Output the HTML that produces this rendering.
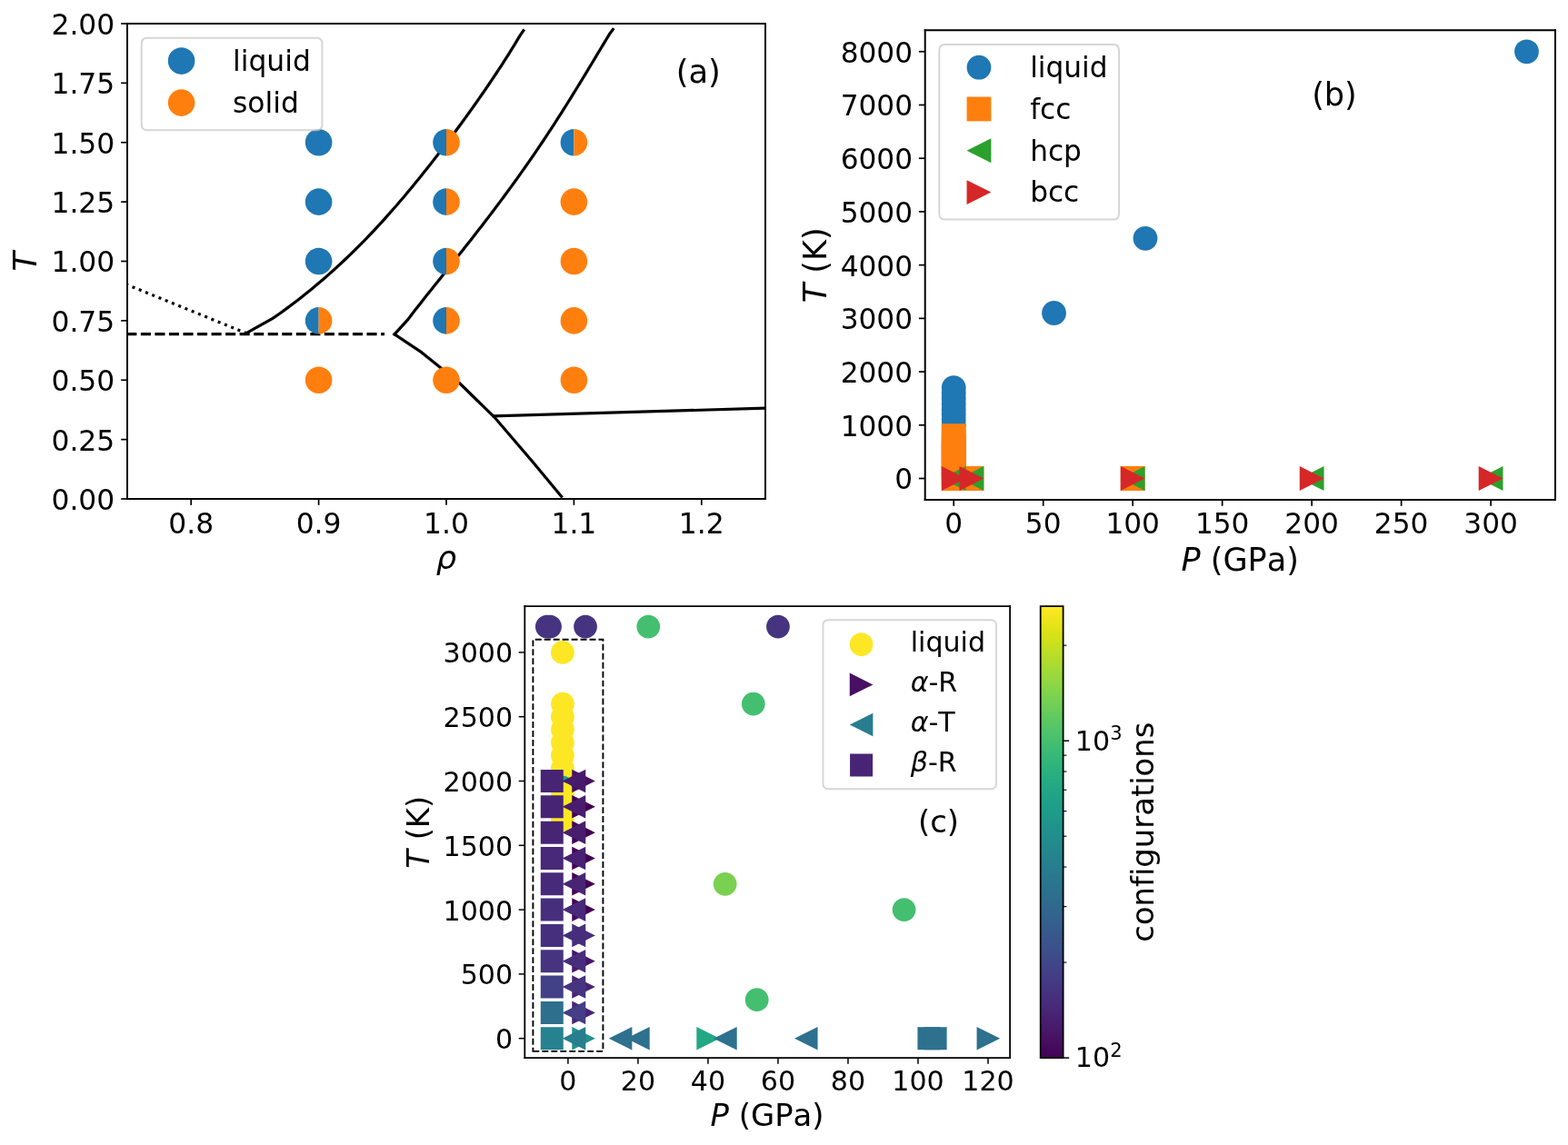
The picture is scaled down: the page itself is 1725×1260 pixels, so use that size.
<!DOCTYPE html>
<html><head><meta charset="utf-8"><title>figure</title>
<style>
html,body{margin:0;padding:0;background:#fff;overflow:hidden;}
#fig{position:relative;width:1725px;height:1260px;overflow:hidden;background:#fff;}
#fig svg{position:absolute;left:0;top:0;}
text{font-variant-ligatures:none;font-feature-settings:"liga" 0;}
</style></head><body><div id="fig">
<svg width="1725" height="1260" viewBox="0 0 880.102041 642.857143" version="1.1">
 <defs>
  <style type="text/css">*{stroke-linejoin: round; stroke-linecap: butt}</style>
 </defs>
 <g id="figure_1">
  <g id="patch_1">
   <path d="M 0 642.857143 L 880.102041 642.857143 L 880.102041 0 L 0 0 L 0 642.857143 z" style="fill: none"/>
  </g>
  <g id="axes_1">
   <g id="patch_2">
    <path d="M 71.428571 280.102041 L 429.591837 280.102041 L 429.591837 13.265306 L 71.428571 13.265306 L 71.428571 280.102041 z" style="fill: none"/>
   </g>
   <g id="matplotlib.axis_1">
    <g id="xtick_1">
     <g id="line2d_1">
      <g>
       <path d="M 0 0 L 0 3.5" transform="translate(107.244898 280.102041)" style="stroke: #000000; stroke-width: 0.867347"/>
      </g>
     </g>
     <g id="text_1">
      <text style="font-size: 16px; font-family: 'DejaVu Sans', sans-serif; text-anchor: middle" x="107.244898" y="299.259541" transform="rotate(-0 107.244898 299.259541)">0.8</text>
     </g>
    </g>
    <g id="xtick_2">
     <g id="line2d_2">
      <g>
       <path d="M 0 0 L 0 3.5" transform="translate(178.877551 280.102041)" style="stroke: #000000; stroke-width: 0.867347"/>
      </g>
     </g>
     <g id="text_2">
      <text style="font-size: 16px; font-family: 'DejaVu Sans', sans-serif; text-anchor: middle" x="178.877551" y="299.259541" transform="rotate(-0 178.877551 299.259541)">0.9</text>
     </g>
    </g>
    <g id="xtick_3">
     <g id="line2d_3">
      <g>
       <path d="M 0 0 L 0 3.5" transform="translate(250.510204 280.102041)" style="stroke: #000000; stroke-width: 0.867347"/>
      </g>
     </g>
     <g id="text_3">
      <text style="font-size: 16px; font-family: 'DejaVu Sans', sans-serif; text-anchor: middle" x="250.510204" y="299.259541" transform="rotate(-0 250.510204 299.259541)">1.0</text>
     </g>
    </g>
    <g id="xtick_4">
     <g id="line2d_4">
      <g>
       <path d="M 0 0 L 0 3.5" transform="translate(322.142857 280.102041)" style="stroke: #000000; stroke-width: 0.867347"/>
      </g>
     </g>
     <g id="text_4">
      <text style="font-size: 16px; font-family: 'DejaVu Sans', sans-serif; text-anchor: middle" x="322.142857" y="299.259541" transform="rotate(-0 322.142857 299.259541)">1.1</text>
     </g>
    </g>
    <g id="xtick_5">
     <g id="line2d_5">
      <g>
       <path d="M 0 0 L 0 3.5" transform="translate(393.77551 280.102041)" style="stroke: #000000; stroke-width: 0.867347"/>
      </g>
     </g>
     <g id="text_5">
      <text style="font-size: 16px; font-family: 'DejaVu Sans', sans-serif; text-anchor: middle" x="393.77551" y="299.259541" transform="rotate(-0 393.77551 299.259541)">1.2</text>
     </g>
    </g>
    <g id="text_6">
     <!-- $\rho$ -->
     <g transform="translate(244.750204 320.227666)">
      <text>
       <tspan x="0" y="-0.921875" style="font-style: oblique; font-size: 18px; font-family: 'DejaVu Sans', sans-serif">ρ</tspan>
      </text>
     </g>
    </g>
   </g>
   <g id="matplotlib.axis_2">
    <g id="ytick_1">
     <g id="line2d_6">
      <g>
       <path d="M 0 0 L -3.5 0" transform="translate(71.428571 280.102041)" style="stroke: #000000; stroke-width: 0.867347"/>
      </g>
     </g>
     <g id="text_7">
      <text style="font-size: 16px; font-family: 'DejaVu Sans', sans-serif; text-anchor: end" x="64.428571" y="286.180791" transform="rotate(-0 64.428571 286.180791)">0.00</text>
     </g>
    </g>
    <g id="ytick_2">
     <g id="line2d_7">
      <g>
       <path d="M 0 0 L -3.5 0" transform="translate(71.428571 246.747449)" style="stroke: #000000; stroke-width: 0.867347"/>
      </g>
     </g>
     <g id="text_8">
      <text style="font-size: 16px; font-family: 'DejaVu Sans', sans-serif; text-anchor: end" x="64.428571" y="252.826199" transform="rotate(-0 64.428571 252.826199)">0.25</text>
     </g>
    </g>
    <g id="ytick_3">
     <g id="line2d_8">
      <g>
       <path d="M 0 0 L -3.5 0" transform="translate(71.428571 213.392857)" style="stroke: #000000; stroke-width: 0.867347"/>
      </g>
     </g>
     <g id="text_9">
      <text style="font-size: 16px; font-family: 'DejaVu Sans', sans-serif; text-anchor: end" x="64.428571" y="219.471607" transform="rotate(-0 64.428571 219.471607)">0.50</text>
     </g>
    </g>
    <g id="ytick_4">
     <g id="line2d_9">
      <g>
       <path d="M 0 0 L -3.5 0" transform="translate(71.428571 180.038265)" style="stroke: #000000; stroke-width: 0.867347"/>
      </g>
     </g>
     <g id="text_10">
      <text style="font-size: 16px; font-family: 'DejaVu Sans', sans-serif; text-anchor: end" x="64.428571" y="186.117015" transform="rotate(-0 64.428571 186.117015)">0.75</text>
     </g>
    </g>
    <g id="ytick_5">
     <g id="line2d_10">
      <g>
       <path d="M 0 0 L -3.5 0" transform="translate(71.428571 146.683673)" style="stroke: #000000; stroke-width: 0.867347"/>
      </g>
     </g>
     <g id="text_11">
      <text style="font-size: 16px; font-family: 'DejaVu Sans', sans-serif; text-anchor: end" x="64.428571" y="152.762423" transform="rotate(-0 64.428571 152.762423)">1.00</text>
     </g>
    </g>
    <g id="ytick_6">
     <g id="line2d_11">
      <g>
       <path d="M 0 0 L -3.5 0" transform="translate(71.428571 113.329082)" style="stroke: #000000; stroke-width: 0.867347"/>
      </g>
     </g>
     <g id="text_12">
      <text style="font-size: 16px; font-family: 'DejaVu Sans', sans-serif; text-anchor: end" x="64.428571" y="119.407832" transform="rotate(-0 64.428571 119.407832)">1.25</text>
     </g>
    </g>
    <g id="ytick_7">
     <g id="line2d_12">
      <g>
       <path d="M 0 0 L -3.5 0" transform="translate(71.428571 79.97449)" style="stroke: #000000; stroke-width: 0.867347"/>
      </g>
     </g>
     <g id="text_13">
      <text style="font-size: 16px; font-family: 'DejaVu Sans', sans-serif; text-anchor: end" x="64.428571" y="86.05324" transform="rotate(-0 64.428571 86.05324)">1.50</text>
     </g>
    </g>
    <g id="ytick_8">
     <g id="line2d_13">
      <g>
       <path d="M 0 0 L -3.5 0" transform="translate(71.428571 46.619898)" style="stroke: #000000; stroke-width: 0.867347"/>
      </g>
     </g>
     <g id="text_14">
      <text style="font-size: 16px; font-family: 'DejaVu Sans', sans-serif; text-anchor: end" x="64.428571" y="52.698648" transform="rotate(-0 64.428571 52.698648)">1.75</text>
     </g>
    </g>
    <g id="ytick_9">
     <g id="line2d_14">
      <g>
       <path d="M 0 0 L -3.5 0" transform="translate(71.428571 13.265306)" style="stroke: #000000; stroke-width: 0.867347"/>
      </g>
     </g>
     <g id="text_15">
      <text style="font-size: 16px; font-family: 'DejaVu Sans', sans-serif; text-anchor: end" x="64.428571" y="19.344056" transform="rotate(-0 64.428571 19.344056)">2.00</text>
     </g>
    </g>
    <g id="text_16">
     <!-- $T$ -->
     <g transform="translate(21.060134 152.263673) rotate(-90)">
      <text>
       <tspan x="0" y="-0.875" style="font-style: oblique; font-size: 18px; font-family: 'DejaVu Sans', sans-serif">T</tspan>
      </text>
     </g>
    </g>
   </g>
   <g id="line2d_15">
    <path d="M 70.561224 159.540816 L 138.367347 187.142857" clip-path="url(#p8e86436fc1)" style="fill: none; stroke-dasharray: 1.55102,2.438776; stroke-dashoffset: 0; stroke: #000000; stroke-width: 1.632653"/>
   </g>
   <g id="line2d_16">
    <path d="M 71.071429 187.55102 L 215.816327 187.55102" clip-path="url(#p8e86436fc1)" style="fill: none; stroke-dasharray: 5.663265,2.265306; stroke-dashoffset: 0; stroke: #000000; stroke-width: 1.632653"/>
   </g>
   <g id="line2d_17">
    <path d="M 138.469388 186.887755 L 153.061224 178.77551 L 157.046781 176.036838 L 160.797745 173.298167 L 164.448409 170.559495 L 168.00306 167.820823 L 171.465874 165.082152 L 174.840914 162.34348 L 178.132132 159.604808 L 181.343365 156.866136 L 184.478341 154.127465 L 187.540672 151.388793 L 190.533862 148.650121 L 193.461298 145.911449 L 196.326259 143.172778 L 199.131909 140.434106 L 201.8813 137.695434 L 204.577372 134.956762 L 207.222954 132.218091 L 209.82076 129.479419 L 212.373395 126.740747 L 214.883347 124.002075 L 217.352997 121.263404 L 219.78461 118.524732 L 222.18034 115.78606 L 224.542229 113.047388 L 226.872206 110.308717 L 229.172087 107.570045 L 231.443578 104.831373 L 233.688271 102.092701 L 235.907645 99.35403 L 238.103068 96.615358 L 240.275796 93.876686 L 242.426972 91.138015 L 244.557626 88.399343 L 246.668676 85.660671 L 248.760929 82.921999 L 250.835078 80.183328 L 252.891705 77.444656 L 254.931278 74.705984 L 256.954156 71.967312 L 258.960581 69.228641 L 260.950687 66.489969 L 262.924492 63.751297 L 264.881905 61.012625 L 266.822721 58.273954 L 268.746622 55.535282 L 270.653179 52.79661 L 272.54185 50.057938 L 274.411982 47.319267 L 276.262807 44.580595 L 278.093447 41.841923 L 279.902912 39.103251 L 281.690096 36.36458 L 283.453786 33.625908 L 285.192653 30.887236 L 286.905256 28.148565 L 288.590043 25.409893 L 290.245349 22.671221 L 291.869397 19.932549 L 293.77551 17.193878" clip-path="url(#p8e86436fc1)" style="fill: none; stroke: #000000; stroke-width: 1.632653; stroke-linecap: square"/>
   </g>
   <g id="line2d_18">
    <path d="M 221.428571 187.704082 L 229.081633 179.285714 L 231.114279 176.527153 L 233.269161 173.768592 L 235.436474 171.010031 L 237.614179 168.25147 L 239.800307 165.492909 L 241.992961 162.734348 L 244.190312 159.975787 L 246.390604 157.217226 L 248.592151 154.458665 L 250.793337 151.700104 L 252.992618 148.941543 L 255.188518 146.182982 L 257.379635 143.424421 L 259.564635 140.66586 L 261.742256 137.907299 L 263.911306 135.148737 L 266.070664 132.390176 L 268.219279 129.631615 L 270.356171 126.873054 L 272.480431 124.114493 L 274.59122 121.355932 L 276.68777 118.597371 L 278.769384 115.83881 L 280.835434 113.080249 L 282.885365 110.321688 L 284.918691 107.563127 L 286.934996 104.804566 L 288.933936 102.046005 L 290.915238 99.287444 L 292.878699 96.528883 L 294.824185 93.770322 L 296.751635 91.011761 L 298.661058 88.2532 L 300.552532 85.494639 L 302.426209 82.736077 L 304.282308 79.977516 L 306.12112 77.218955 L 307.943008 74.460394 L 309.748403 71.701833 L 311.537809 68.943272 L 313.3118 66.184711 L 315.071019 63.42615 L 316.816182 60.667589 L 318.548074 57.909028 L 320.267551 55.150467 L 321.97554 52.391906 L 323.673038 49.633345 L 325.361114 46.874784 L 327.040906 44.116223 L 328.713622 41.357662 L 330.380544 38.599101 L 332.04302 35.84054 L 333.702474 33.081979 L 335.360395 30.323418 L 337.018347 27.564856 L 338.677962 24.806295 L 340.340944 22.047734 L 342.009067 19.289173 L 344.030612 16.530612" clip-path="url(#p8e86436fc1)" style="fill: none; stroke: #000000; stroke-width: 1.632653; stroke-linecap: square"/>
   </g>
   <g id="line2d_19">
    <path d="M 221.428571 187.704082 L 236.734694 197.908163 L 247.193878 206.377551 L 258.163265 215.357143 L 265.408163 222.44898 L 277.142857 233.826531 L 297.908163 258.010204 L 315.102041 278.72449" clip-path="url(#p8e86436fc1)" style="fill: none; stroke: #000000; stroke-width: 1.632653; stroke-linecap: square"/>
   </g>
   <g id="line2d_20">
    <path d="M 277.142857 233.622449 L 438.77551 228.877551" clip-path="url(#p8e86436fc1)" style="fill: none; stroke: #000000; stroke-width: 1.632653; stroke-linecap: square"/>
   </g>
   <g id="line2d_21">
    <g clip-path="url(#p8e86436fc1)">
     <path d="M 0 7.55102 C 2.002554 7.55102 3.923358 6.755397 5.339378 5.339378 C 6.755397 3.923358 7.55102 2.002554 7.55102 0 C 7.55102 -2.002554 6.755397 -3.923358 5.339378 -5.339378 C 3.923358 -6.755397 2.002554 -7.55102 0 -7.55102 C -2.002554 -7.55102 -3.923358 -6.755397 -5.339378 -5.339378 C -6.755397 -3.923358 -7.55102 -2.002554 -7.55102 0 C -7.55102 2.002554 -6.755397 3.923358 -5.339378 5.339378 C -3.923358 6.755397 -2.002554 7.55102 0 7.55102 z" transform="translate(178.877551 79.97449)" style="fill: #1f77b4"/>
     <path d="M 0 7.55102 C 2.002554 7.55102 3.923358 6.755397 5.339378 5.339378 C 6.755397 3.923358 7.55102 2.002554 7.55102 0 C 7.55102 -2.002554 6.755397 -3.923358 5.339378 -5.339378 C 3.923358 -6.755397 2.002554 -7.55102 0 -7.55102 C -2.002554 -7.55102 -3.923358 -6.755397 -5.339378 -5.339378 C -6.755397 -3.923358 -7.55102 -2.002554 -7.55102 0 C -7.55102 2.002554 -6.755397 3.923358 -5.339378 5.339378 C -3.923358 6.755397 -2.002554 7.55102 0 7.55102 z" transform="translate(178.877551 113.329082)" style="fill: #1f77b4"/>
     <path d="M 0 7.55102 C 2.002554 7.55102 3.923358 6.755397 5.339378 5.339378 C 6.755397 3.923358 7.55102 2.002554 7.55102 0 C 7.55102 -2.002554 6.755397 -3.923358 5.339378 -5.339378 C 3.923358 -6.755397 2.002554 -7.55102 0 -7.55102 C -2.002554 -7.55102 -3.923358 -6.755397 -5.339378 -5.339378 C -6.755397 -3.923358 -7.55102 -2.002554 -7.55102 0 C -7.55102 2.002554 -6.755397 3.923358 -5.339378 5.339378 C -3.923358 6.755397 -2.002554 7.55102 0 7.55102 z" transform="translate(178.877551 146.683673)" style="fill: #1f77b4"/>
    </g>
   </g>
   <g id="line2d_22">
    <g clip-path="url(#p8e86436fc1)">
     <path d="M 0 7.55102 C 2.002554 7.55102 3.923358 6.755397 5.339378 5.339378 C 6.755397 3.923358 7.55102 2.002554 7.55102 0 C 7.55102 -2.002554 6.755397 -3.923358 5.339378 -5.339378 C 3.923358 -6.755397 2.002554 -7.55102 0 -7.55102 C -2.002554 -7.55102 -3.923358 -6.755397 -5.339378 -5.339378 C -6.755397 -3.923358 -7.55102 -2.002554 -7.55102 0 C -7.55102 2.002554 -6.755397 3.923358 -5.339378 5.339378 C -3.923358 6.755397 -2.002554 7.55102 0 7.55102 z" transform="translate(178.877551 213.392857)" style="fill: #ff7f0e"/>
     <path d="M 0 7.55102 C 2.002554 7.55102 3.923358 6.755397 5.339378 5.339378 C 6.755397 3.923358 7.55102 2.002554 7.55102 0 C 7.55102 -2.002554 6.755397 -3.923358 5.339378 -5.339378 C 3.923358 -6.755397 2.002554 -7.55102 0 -7.55102 C -2.002554 -7.55102 -3.923358 -6.755397 -5.339378 -5.339378 C -6.755397 -3.923358 -7.55102 -2.002554 -7.55102 0 C -7.55102 2.002554 -6.755397 3.923358 -5.339378 5.339378 C -3.923358 6.755397 -2.002554 7.55102 0 7.55102 z" transform="translate(250.510204 213.392857)" style="fill: #ff7f0e"/>
     <path d="M 0 7.55102 C 2.002554 7.55102 3.923358 6.755397 5.339378 5.339378 C 6.755397 3.923358 7.55102 2.002554 7.55102 0 C 7.55102 -2.002554 6.755397 -3.923358 5.339378 -5.339378 C 3.923358 -6.755397 2.002554 -7.55102 0 -7.55102 C -2.002554 -7.55102 -3.923358 -6.755397 -5.339378 -5.339378 C -6.755397 -3.923358 -7.55102 -2.002554 -7.55102 0 C -7.55102 2.002554 -6.755397 3.923358 -5.339378 5.339378 C -3.923358 6.755397 -2.002554 7.55102 0 7.55102 z" transform="translate(322.142857 113.329082)" style="fill: #ff7f0e"/>
     <path d="M 0 7.55102 C 2.002554 7.55102 3.923358 6.755397 5.339378 5.339378 C 6.755397 3.923358 7.55102 2.002554 7.55102 0 C 7.55102 -2.002554 6.755397 -3.923358 5.339378 -5.339378 C 3.923358 -6.755397 2.002554 -7.55102 0 -7.55102 C -2.002554 -7.55102 -3.923358 -6.755397 -5.339378 -5.339378 C -6.755397 -3.923358 -7.55102 -2.002554 -7.55102 0 C -7.55102 2.002554 -6.755397 3.923358 -5.339378 5.339378 C -3.923358 6.755397 -2.002554 7.55102 0 7.55102 z" transform="translate(322.142857 146.683673)" style="fill: #ff7f0e"/>
     <path d="M 0 7.55102 C 2.002554 7.55102 3.923358 6.755397 5.339378 5.339378 C 6.755397 3.923358 7.55102 2.002554 7.55102 0 C 7.55102 -2.002554 6.755397 -3.923358 5.339378 -5.339378 C 3.923358 -6.755397 2.002554 -7.55102 0 -7.55102 C -2.002554 -7.55102 -3.923358 -6.755397 -5.339378 -5.339378 C -6.755397 -3.923358 -7.55102 -2.002554 -7.55102 0 C -7.55102 2.002554 -6.755397 3.923358 -5.339378 5.339378 C -3.923358 6.755397 -2.002554 7.55102 0 7.55102 z" transform="translate(322.142857 180.038265)" style="fill: #ff7f0e"/>
     <path d="M 0 7.55102 C 2.002554 7.55102 3.923358 6.755397 5.339378 5.339378 C 6.755397 3.923358 7.55102 2.002554 7.55102 0 C 7.55102 -2.002554 6.755397 -3.923358 5.339378 -5.339378 C 3.923358 -6.755397 2.002554 -7.55102 0 -7.55102 C -2.002554 -7.55102 -3.923358 -6.755397 -5.339378 -5.339378 C -6.755397 -3.923358 -7.55102 -2.002554 -7.55102 0 C -7.55102 2.002554 -6.755397 3.923358 -5.339378 5.339378 C -3.923358 6.755397 -2.002554 7.55102 0 7.55102 z" transform="translate(322.142857 213.392857)" style="fill: #ff7f0e"/>
    </g>
   </g>
   <g id="line2d_23">
    <g clip-path="url(#p8e86436fc1)">
     <path d="M 0 -7.55102 C -2.002554 -7.55102 -3.923358 -6.755397 -5.339378 -5.339378 C -6.755397 -3.923358 -7.55102 -2.002554 -7.55102 -0 C -7.55102 2.002554 -6.755397 3.923358 -5.339378 5.339378 C -3.923358 6.755397 -2.002554 7.55102 -0 7.55102 z" transform="translate(178.877551 180.038265)" style="fill: #1f77b4"/>
     <path d="M 0 -7.55102 C -2.002554 -7.55102 -3.923358 -6.755397 -5.339378 -5.339378 C -6.755397 -3.923358 -7.55102 -2.002554 -7.55102 -0 C -7.55102 2.002554 -6.755397 3.923358 -5.339378 5.339378 C -3.923358 6.755397 -2.002554 7.55102 -0 7.55102 z" transform="translate(250.510204 79.97449)" style="fill: #1f77b4"/>
     <path d="M 0 -7.55102 C -2.002554 -7.55102 -3.923358 -6.755397 -5.339378 -5.339378 C -6.755397 -3.923358 -7.55102 -2.002554 -7.55102 -0 C -7.55102 2.002554 -6.755397 3.923358 -5.339378 5.339378 C -3.923358 6.755397 -2.002554 7.55102 -0 7.55102 z" transform="translate(250.510204 113.329082)" style="fill: #1f77b4"/>
     <path d="M 0 -7.55102 C -2.002554 -7.55102 -3.923358 -6.755397 -5.339378 -5.339378 C -6.755397 -3.923358 -7.55102 -2.002554 -7.55102 -0 C -7.55102 2.002554 -6.755397 3.923358 -5.339378 5.339378 C -3.923358 6.755397 -2.002554 7.55102 -0 7.55102 z" transform="translate(250.510204 146.683673)" style="fill: #1f77b4"/>
     <path d="M 0 -7.55102 C -2.002554 -7.55102 -3.923358 -6.755397 -5.339378 -5.339378 C -6.755397 -3.923358 -7.55102 -2.002554 -7.55102 -0 C -7.55102 2.002554 -6.755397 3.923358 -5.339378 5.339378 C -3.923358 6.755397 -2.002554 7.55102 -0 7.55102 z" transform="translate(250.510204 180.038265)" style="fill: #1f77b4"/>
     <path d="M 0 -7.55102 C -2.002554 -7.55102 -3.923358 -6.755397 -5.339378 -5.339378 C -6.755397 -3.923358 -7.55102 -2.002554 -7.55102 -0 C -7.55102 2.002554 -6.755397 3.923358 -5.339378 5.339378 C -3.923358 6.755397 -2.002554 7.55102 -0 7.55102 z" transform="translate(322.142857 79.97449)" style="fill: #1f77b4"/>
    </g>
    <g clip-path="url(#p8e86436fc1)">
     <path d="M -0 7.55102 C 2.002554 7.55102 3.923358 6.755397 5.339378 5.339378 C 6.755397 3.923358 7.55102 2.002554 7.55102 0 C 7.55102 -2.002554 6.755397 -3.923358 5.339378 -5.339378 C 3.923358 -6.755397 2.002554 -7.55102 0 -7.55102 z" transform="translate(178.877551 180.038265)" style="fill: #ff7f0e"/>
     <path d="M -0 7.55102 C 2.002554 7.55102 3.923358 6.755397 5.339378 5.339378 C 6.755397 3.923358 7.55102 2.002554 7.55102 0 C 7.55102 -2.002554 6.755397 -3.923358 5.339378 -5.339378 C 3.923358 -6.755397 2.002554 -7.55102 0 -7.55102 z" transform="translate(250.510204 79.97449)" style="fill: #ff7f0e"/>
     <path d="M -0 7.55102 C 2.002554 7.55102 3.923358 6.755397 5.339378 5.339378 C 6.755397 3.923358 7.55102 2.002554 7.55102 0 C 7.55102 -2.002554 6.755397 -3.923358 5.339378 -5.339378 C 3.923358 -6.755397 2.002554 -7.55102 0 -7.55102 z" transform="translate(250.510204 113.329082)" style="fill: #ff7f0e"/>
     <path d="M -0 7.55102 C 2.002554 7.55102 3.923358 6.755397 5.339378 5.339378 C 6.755397 3.923358 7.55102 2.002554 7.55102 0 C 7.55102 -2.002554 6.755397 -3.923358 5.339378 -5.339378 C 3.923358 -6.755397 2.002554 -7.55102 0 -7.55102 z" transform="translate(250.510204 146.683673)" style="fill: #ff7f0e"/>
     <path d="M -0 7.55102 C 2.002554 7.55102 3.923358 6.755397 5.339378 5.339378 C 6.755397 3.923358 7.55102 2.002554 7.55102 0 C 7.55102 -2.002554 6.755397 -3.923358 5.339378 -5.339378 C 3.923358 -6.755397 2.002554 -7.55102 0 -7.55102 z" transform="translate(250.510204 180.038265)" style="fill: #ff7f0e"/>
     <path d="M -0 7.55102 C 2.002554 7.55102 3.923358 6.755397 5.339378 5.339378 C 6.755397 3.923358 7.55102 2.002554 7.55102 0 C 7.55102 -2.002554 6.755397 -3.923358 5.339378 -5.339378 C 3.923358 -6.755397 2.002554 -7.55102 0 -7.55102 z" transform="translate(322.142857 79.97449)" style="fill: #ff7f0e"/>
    </g>
   </g>
   <g id="patch_3">
    <path d="M 71.428571 280.102041 L 71.428571 13.265306" style="fill: none; stroke: #000000; stroke-width: 1.020408; stroke-linejoin: miter; stroke-linecap: square"/>
   </g>
   <g id="patch_4">
    <path d="M 429.591837 280.102041 L 429.591837 13.265306" style="fill: none; stroke: #000000; stroke-width: 1.020408; stroke-linejoin: miter; stroke-linecap: square"/>
   </g>
   <g id="patch_5">
    <path d="M 71.428571 280.102041 L 429.591837 280.102041" style="fill: none; stroke: #000000; stroke-width: 1.020408; stroke-linejoin: miter; stroke-linecap: square"/>
   </g>
   <g id="patch_6">
    <path d="M 71.428571 13.265306 L 429.591837 13.265306" style="fill: none; stroke: #000000; stroke-width: 1.020408; stroke-linejoin: miter; stroke-linecap: square"/>
   </g>
   <g id="text_17">
    <text style="font-size: 18px; font-family: 'DejaVu Sans', sans-serif; text-anchor: start" x="379.44898" y="46.619898" transform="rotate(-0 379.44898 46.619898)">(a)</text>
   </g>
   <g id="legend_1">
    <g id="patch_7">
     <path d="M 82.628571 73.035306 L 177.618571 73.035306 Q 180.818571 73.035306 180.818571 69.835306 L 180.818571 24.465306 Q 180.818571 21.265306 177.618571 21.265306 L 82.628571 21.265306 Q 79.428571 21.265306 79.428571 24.465306 L 79.428571 69.835306 Q 79.428571 73.035306 82.628571 73.035306 z" style="fill: #ffffff; opacity: 0.8; stroke: #cccccc; stroke-linejoin: miter"/>
    </g>
    <g id="line2d_24">
     <g>
      <path d="M 0 7.55102 C 2.002554 7.55102 3.923358 6.755397 5.339378 5.339378 C 6.755397 3.923358 7.55102 2.002554 7.55102 0 C 7.55102 -2.002554 6.755397 -3.923358 5.339378 -5.339378 C 3.923358 -6.755397 2.002554 -7.55102 0 -7.55102 C -2.002554 -7.55102 -3.923358 -6.755397 -5.339378 -5.339378 C -6.755397 -3.923358 -7.55102 -2.002554 -7.55102 0 C -7.55102 2.002554 -6.755397 3.923358 -5.339378 5.339378 C -3.923358 6.755397 -2.002554 7.55102 0 7.55102 z" transform="translate(101.828571 34.222806)" style="fill: #1f77b4"/>
     </g>
    </g>
    <g id="text_18">
     <text style="font-size: 16px; font-family: 'DejaVu Sans', sans-serif; text-anchor: start" x="130.628571" y="39.822806" transform="rotate(-0 130.628571 39.822806)">liquid</text>
    </g>
    <g id="line2d_25">
     <g>
      <path d="M 0 7.55102 C 2.002554 7.55102 3.923358 6.755397 5.339378 5.339378 C 6.755397 3.923358 7.55102 2.002554 7.55102 0 C 7.55102 -2.002554 6.755397 -3.923358 5.339378 -5.339378 C 3.923358 -6.755397 2.002554 -7.55102 0 -7.55102 C -2.002554 -7.55102 -3.923358 -6.755397 -5.339378 -5.339378 C -6.755397 -3.923358 -7.55102 -2.002554 -7.55102 0 C -7.55102 2.002554 -6.755397 3.923358 -5.339378 5.339378 C -3.923358 6.755397 -2.002554 7.55102 0 7.55102 z" transform="translate(101.828571 57.707806)" style="fill: #ff7f0e"/>
     </g>
    </g>
    <g id="text_19">
     <text style="font-size: 16px; font-family: 'DejaVu Sans', sans-serif; text-anchor: start" x="130.628571" y="63.307806" transform="rotate(-0 130.628571 63.307806)">solid</text>
    </g>
   </g>
  </g>
 </g>
 <defs>
  <clipPath id="p8e86436fc1">
   <rect x="71.428571" y="13.265306" width="358.163265" height="266.836735"/>
  </clipPath>
 </defs>
</svg>
<svg width="1725" height="1260" viewBox="0 0 884.615385 646.153846" version="1.1">
 <defs>
  <style type="text/css">*{stroke-linejoin: round; stroke-linecap: butt}</style>
 </defs>
 <g id="figure_1">
  <g id="patch_1">
   <path d="M 0 646.153846 L 884.615385 646.153846 L 884.615385 0 L 0 0 L 0 646.153846 z" style="fill: none"/>
  </g>
  <g id="axes_1">
   <g id="patch_2">
    <path d="M 521.897436 282.051282 L 877.435897 282.051282 L 877.435897 17.076923 L 521.897436 17.076923 L 521.897436 282.051282 z" style="fill: none"/>
   </g>
   <g id="matplotlib.axis_1">
    <g id="xtick_1">
     <g id="line2d_1">
      <g>
       <path d="M 0 0 L 0 3.5" transform="translate(538.058275 282.051282)" style="stroke: #000000; stroke-width: 0.871795"/>
      </g>
     </g>
     <g id="text_1">
      <text style="font-size: 16px; font-family: 'DejaVu Sans', sans-serif; text-anchor: middle" x="538.058275" y="301.208782" transform="rotate(-0 538.058275 301.208782)">0</text>
     </g>
    </g>
    <g id="xtick_2">
     <g id="line2d_2">
      <g>
       <path d="M 0 0 L 0 3.5" transform="translate(588.560897 282.051282)" style="stroke: #000000; stroke-width: 0.871795"/>
      </g>
     </g>
     <g id="text_2">
      <text style="font-size: 16px; font-family: 'DejaVu Sans', sans-serif; text-anchor: middle" x="588.560897" y="301.208782" transform="rotate(-0 588.560897 301.208782)">50</text>
     </g>
    </g>
    <g id="xtick_3">
     <g id="line2d_3">
      <g>
       <path d="M 0 0 L 0 3.5" transform="translate(639.06352 282.051282)" style="stroke: #000000; stroke-width: 0.871795"/>
      </g>
     </g>
     <g id="text_3">
      <text style="font-size: 16px; font-family: 'DejaVu Sans', sans-serif; text-anchor: middle" x="639.06352" y="301.208782" transform="rotate(-0 639.06352 301.208782)">100</text>
     </g>
    </g>
    <g id="xtick_4">
     <g id="line2d_4">
      <g>
       <path d="M 0 0 L 0 3.5" transform="translate(689.566142 282.051282)" style="stroke: #000000; stroke-width: 0.871795"/>
      </g>
     </g>
     <g id="text_4">
      <text style="font-size: 16px; font-family: 'DejaVu Sans', sans-serif; text-anchor: middle" x="689.566142" y="301.208782" transform="rotate(-0 689.566142 301.208782)">150</text>
     </g>
    </g>
    <g id="xtick_5">
     <g id="line2d_5">
      <g>
       <path d="M 0 0 L 0 3.5" transform="translate(740.068765 282.051282)" style="stroke: #000000; stroke-width: 0.871795"/>
      </g>
     </g>
     <g id="text_5">
      <text style="font-size: 16px; font-family: 'DejaVu Sans', sans-serif; text-anchor: middle" x="740.068765" y="301.208782" transform="rotate(-0 740.068765 301.208782)">200</text>
     </g>
    </g>
    <g id="xtick_6">
     <g id="line2d_6">
      <g>
       <path d="M 0 0 L 0 3.5" transform="translate(790.571387 282.051282)" style="stroke: #000000; stroke-width: 0.871795"/>
      </g>
     </g>
     <g id="text_6">
      <text style="font-size: 16px; font-family: 'DejaVu Sans', sans-serif; text-anchor: middle" x="790.571387" y="301.208782" transform="rotate(-0 790.571387 301.208782)">250</text>
     </g>
    </g>
    <g id="xtick_7">
     <g id="line2d_7">
      <g>
       <path d="M 0 0 L 0 3.5" transform="translate(841.074009 282.051282)" style="stroke: #000000; stroke-width: 0.871795"/>
      </g>
     </g>
     <g id="text_7">
      <text style="font-size: 16px; font-family: 'DejaVu Sans', sans-serif; text-anchor: middle" x="841.074009" y="301.208782" transform="rotate(-0 841.074009 301.208782)">300</text>
     </g>
    </g>
    <g id="text_8">
     <!-- $P$ (GPa) -->
     <g transform="translate(666.366667 322.21347)">
      <text>
       <tspan x="0" y="-0.34375" style="font-style: oblique; font-size: 18px; font-family: 'DejaVu Sans', sans-serif">P</tspan>
       <tspan x="10.854492" y="-0.34375" style="font-size: 18px; font-family: 'DejaVu Sans', sans-serif"> </tspan>
       <tspan x="16.576172" y="-0.34375" style="font-size: 18px; font-family: 'DejaVu Sans', sans-serif">(</tspan>
       <tspan x="23.598633" y="-0.34375" style="font-size: 18px; font-family: 'DejaVu Sans', sans-serif">G</tspan>
       <tspan x="37.546875" y="-0.34375" style="font-size: 18px; font-family: 'DejaVu Sans', sans-serif">P</tspan>
       <tspan x="48.401367" y="-0.34375" style="font-size: 18px; font-family: 'DejaVu Sans', sans-serif">a</tspan>
       <tspan x="59.431641" y="-0.34375" style="font-size: 18px; font-family: 'DejaVu Sans', sans-serif">)</tspan>
      </text>
     </g>
    </g>
   </g>
   <g id="matplotlib.axis_2">
    <g id="ytick_1">
     <g id="line2d_8">
      <g>
       <path d="M 0 0 L -3.5 0" transform="translate(521.897436 270.006993)" style="stroke: #000000; stroke-width: 0.871795"/>
      </g>
     </g>
     <g id="text_9">
      <text style="font-size: 16px; font-family: 'DejaVu Sans', sans-serif; text-anchor: end" x="514.897436" y="276.085743" transform="rotate(-0 514.897436 276.085743)">0</text>
     </g>
    </g>
    <g id="ytick_2">
     <g id="line2d_9">
      <g>
       <path d="M 0 0 L -3.5 0" transform="translate(521.897436 239.89627)" style="stroke: #000000; stroke-width: 0.871795"/>
      </g>
     </g>
     <g id="text_10">
      <text style="font-size: 16px; font-family: 'DejaVu Sans', sans-serif; text-anchor: end" x="514.897436" y="245.97502" transform="rotate(-0 514.897436 245.97502)">1000</text>
     </g>
    </g>
    <g id="ytick_3">
     <g id="line2d_10">
      <g>
       <path d="M 0 0 L -3.5 0" transform="translate(521.897436 209.785548)" style="stroke: #000000; stroke-width: 0.871795"/>
      </g>
     </g>
     <g id="text_11">
      <text style="font-size: 16px; font-family: 'DejaVu Sans', sans-serif; text-anchor: end" x="514.897436" y="215.864298" transform="rotate(-0 514.897436 215.864298)">2000</text>
     </g>
    </g>
    <g id="ytick_4">
     <g id="line2d_11">
      <g>
       <path d="M 0 0 L -3.5 0" transform="translate(521.897436 179.674825)" style="stroke: #000000; stroke-width: 0.871795"/>
      </g>
     </g>
     <g id="text_12">
      <text style="font-size: 16px; font-family: 'DejaVu Sans', sans-serif; text-anchor: end" x="514.897436" y="185.753575" transform="rotate(-0 514.897436 185.753575)">3000</text>
     </g>
    </g>
    <g id="ytick_5">
     <g id="line2d_12">
      <g>
       <path d="M 0 0 L -3.5 0" transform="translate(521.897436 149.564103)" style="stroke: #000000; stroke-width: 0.871795"/>
      </g>
     </g>
     <g id="text_13">
      <text style="font-size: 16px; font-family: 'DejaVu Sans', sans-serif; text-anchor: end" x="514.897436" y="155.642853" transform="rotate(-0 514.897436 155.642853)">4000</text>
     </g>
    </g>
    <g id="ytick_6">
     <g id="line2d_13">
      <g>
       <path d="M 0 0 L -3.5 0" transform="translate(521.897436 119.45338)" style="stroke: #000000; stroke-width: 0.871795"/>
      </g>
     </g>
     <g id="text_14">
      <text style="font-size: 16px; font-family: 'DejaVu Sans', sans-serif; text-anchor: end" x="514.897436" y="125.53213" transform="rotate(-0 514.897436 125.53213)">5000</text>
     </g>
    </g>
    <g id="ytick_7">
     <g id="line2d_14">
      <g>
       <path d="M 0 0 L -3.5 0" transform="translate(521.897436 89.342657)" style="stroke: #000000; stroke-width: 0.871795"/>
      </g>
     </g>
     <g id="text_15">
      <text style="font-size: 16px; font-family: 'DejaVu Sans', sans-serif; text-anchor: end" x="514.897436" y="95.421407" transform="rotate(-0 514.897436 95.421407)">6000</text>
     </g>
    </g>
    <g id="ytick_8">
     <g id="line2d_15">
      <g>
       <path d="M 0 0 L -3.5 0" transform="translate(521.897436 59.231935)" style="stroke: #000000; stroke-width: 0.871795"/>
      </g>
     </g>
     <g id="text_16">
      <text style="font-size: 16px; font-family: 'DejaVu Sans', sans-serif; text-anchor: end" x="514.897436" y="65.310685" transform="rotate(-0 514.897436 65.310685)">7000</text>
     </g>
    </g>
    <g id="ytick_9">
     <g id="line2d_16">
      <g>
       <path d="M 0 0 L -3.5 0" transform="translate(521.897436 29.121212)" style="stroke: #000000; stroke-width: 0.871795"/>
      </g>
     </g>
     <g id="text_17">
      <text style="font-size: 16px; font-family: 'DejaVu Sans', sans-serif; text-anchor: end" x="514.897436" y="35.199962" transform="rotate(-0 514.897436 35.199962)">8000</text>
     </g>
    </g>
    <g id="text_18">
     <!-- $T$ (K) -->
     <g transform="translate(466.433998 170.894103) rotate(-90)">
      <text>
       <tspan x="0" y="-0.34375" style="font-style: oblique; font-size: 18px; font-family: 'DejaVu Sans', sans-serif">T</tspan>
       <tspan x="10.995117" y="-0.34375" style="font-size: 18px; font-family: 'DejaVu Sans', sans-serif"> </tspan>
       <tspan x="16.716797" y="-0.34375" style="font-size: 18px; font-family: 'DejaVu Sans', sans-serif">(</tspan>
       <tspan x="23.739258" y="-0.34375" style="font-size: 18px; font-family: 'DejaVu Sans', sans-serif">K</tspan>
       <tspan x="35.542969" y="-0.34375" style="font-size: 18px; font-family: 'DejaVu Sans', sans-serif">)</tspan>
      </text>
     </g>
    </g>
   </g>
   <g id="line2d_17">
    <g clip-path="url(#p900b31e231)">
     <path d="M 0 6.871795 C 1.822421 6.871795 3.570446 6.147739 4.859093 4.859093 C 6.147739 3.570446 6.871795 1.822421 6.871795 0 C 6.871795 -1.822421 6.147739 -3.570446 4.859093 -4.859093 C 3.570446 -6.147739 1.822421 -6.871795 0 -6.871795 C -1.822421 -6.871795 -3.570446 -6.147739 -4.859093 -4.859093 C -6.147739 -3.570446 -6.871795 -1.822421 -6.871795 0 C -6.871795 1.822421 -6.147739 3.570446 -4.859093 4.859093 C -3.570446 6.147739 -1.822421 6.871795 0 6.871795 z" transform="translate(538.058275 239.89627)" style="fill: #1f77b4"/>
     <path d="M 0 6.871795 C 1.822421 6.871795 3.570446 6.147739 4.859093 4.859093 C 6.147739 3.570446 6.871795 1.822421 6.871795 0 C 6.871795 -1.822421 6.147739 -3.570446 4.859093 -4.859093 C 3.570446 -6.147739 1.822421 -6.871795 0 -6.871795 C -1.822421 -6.871795 -3.570446 -6.147739 -4.859093 -4.859093 C -6.147739 -3.570446 -6.871795 -1.822421 -6.871795 0 C -6.871795 1.822421 -6.147739 3.570446 -4.859093 4.859093 C -3.570446 6.147739 -1.822421 6.871795 0 6.871795 z" transform="translate(538.058275 236.885198)" style="fill: #1f77b4"/>
     <path d="M 0 6.871795 C 1.822421 6.871795 3.570446 6.147739 4.859093 4.859093 C 6.147739 3.570446 6.871795 1.822421 6.871795 0 C 6.871795 -1.822421 6.147739 -3.570446 4.859093 -4.859093 C 3.570446 -6.147739 1.822421 -6.871795 0 -6.871795 C -1.822421 -6.871795 -3.570446 -6.147739 -4.859093 -4.859093 C -6.147739 -3.570446 -6.871795 -1.822421 -6.871795 0 C -6.871795 1.822421 -6.147739 3.570446 -4.859093 4.859093 C -3.570446 6.147739 -1.822421 6.871795 0 6.871795 z" transform="translate(538.058275 233.874126)" style="fill: #1f77b4"/>
     <path d="M 0 6.871795 C 1.822421 6.871795 3.570446 6.147739 4.859093 4.859093 C 6.147739 3.570446 6.871795 1.822421 6.871795 0 C 6.871795 -1.822421 6.147739 -3.570446 4.859093 -4.859093 C 3.570446 -6.147739 1.822421 -6.871795 0 -6.871795 C -1.822421 -6.871795 -3.570446 -6.147739 -4.859093 -4.859093 C -6.147739 -3.570446 -6.871795 -1.822421 -6.871795 0 C -6.871795 1.822421 -6.147739 3.570446 -4.859093 4.859093 C -3.570446 6.147739 -1.822421 6.871795 0 6.871795 z" transform="translate(538.058275 230.863054)" style="fill: #1f77b4"/>
     <path d="M 0 6.871795 C 1.822421 6.871795 3.570446 6.147739 4.859093 4.859093 C 6.147739 3.570446 6.871795 1.822421 6.871795 0 C 6.871795 -1.822421 6.147739 -3.570446 4.859093 -4.859093 C 3.570446 -6.147739 1.822421 -6.871795 0 -6.871795 C -1.822421 -6.871795 -3.570446 -6.147739 -4.859093 -4.859093 C -6.147739 -3.570446 -6.871795 -1.822421 -6.871795 0 C -6.871795 1.822421 -6.147739 3.570446 -4.859093 4.859093 C -3.570446 6.147739 -1.822421 6.871795 0 6.871795 z" transform="translate(538.058275 227.851981)" style="fill: #1f77b4"/>
     <path d="M 0 6.871795 C 1.822421 6.871795 3.570446 6.147739 4.859093 4.859093 C 6.147739 3.570446 6.871795 1.822421 6.871795 0 C 6.871795 -1.822421 6.147739 -3.570446 4.859093 -4.859093 C 3.570446 -6.147739 1.822421 -6.871795 0 -6.871795 C -1.822421 -6.871795 -3.570446 -6.147739 -4.859093 -4.859093 C -6.147739 -3.570446 -6.871795 -1.822421 -6.871795 0 C -6.871795 1.822421 -6.147739 3.570446 -4.859093 4.859093 C -3.570446 6.147739 -1.822421 6.871795 0 6.871795 z" transform="translate(538.058275 224.840909)" style="fill: #1f77b4"/>
     <path d="M 0 6.871795 C 1.822421 6.871795 3.570446 6.147739 4.859093 4.859093 C 6.147739 3.570446 6.871795 1.822421 6.871795 0 C 6.871795 -1.822421 6.147739 -3.570446 4.859093 -4.859093 C 3.570446 -6.147739 1.822421 -6.871795 0 -6.871795 C -1.822421 -6.871795 -3.570446 -6.147739 -4.859093 -4.859093 C -6.147739 -3.570446 -6.871795 -1.822421 -6.871795 0 C -6.871795 1.822421 -6.147739 3.570446 -4.859093 4.859093 C -3.570446 6.147739 -1.822421 6.871795 0 6.871795 z" transform="translate(538.058275 221.829837)" style="fill: #1f77b4"/>
     <path d="M 0 6.871795 C 1.822421 6.871795 3.570446 6.147739 4.859093 4.859093 C 6.147739 3.570446 6.871795 1.822421 6.871795 0 C 6.871795 -1.822421 6.147739 -3.570446 4.859093 -4.859093 C 3.570446 -6.147739 1.822421 -6.871795 0 -6.871795 C -1.822421 -6.871795 -3.570446 -6.147739 -4.859093 -4.859093 C -6.147739 -3.570446 -6.871795 -1.822421 -6.871795 0 C -6.871795 1.822421 -6.147739 3.570446 -4.859093 4.859093 C -3.570446 6.147739 -1.822421 6.871795 0 6.871795 z" transform="translate(538.058275 218.818765)" style="fill: #1f77b4"/>
     <path d="M 0 6.871795 C 1.822421 6.871795 3.570446 6.147739 4.859093 4.859093 C 6.147739 3.570446 6.871795 1.822421 6.871795 0 C 6.871795 -1.822421 6.147739 -3.570446 4.859093 -4.859093 C 3.570446 -6.147739 1.822421 -6.871795 0 -6.871795 C -1.822421 -6.871795 -3.570446 -6.147739 -4.859093 -4.859093 C -6.147739 -3.570446 -6.871795 -1.822421 -6.871795 0 C -6.871795 1.822421 -6.147739 3.570446 -4.859093 4.859093 C -3.570446 6.147739 -1.822421 6.871795 0 6.871795 z" transform="translate(594.621212 176.663753)" style="fill: #1f77b4"/>
     <path d="M 0 6.871795 C 1.822421 6.871795 3.570446 6.147739 4.859093 4.859093 C 6.147739 3.570446 6.871795 1.822421 6.871795 0 C 6.871795 -1.822421 6.147739 -3.570446 4.859093 -4.859093 C 3.570446 -6.147739 1.822421 -6.871795 0 -6.871795 C -1.822421 -6.871795 -3.570446 -6.147739 -4.859093 -4.859093 C -6.147739 -3.570446 -6.871795 -1.822421 -6.871795 0 C -6.871795 1.822421 -6.147739 3.570446 -4.859093 4.859093 C -3.570446 6.147739 -1.822421 6.871795 0 6.871795 z" transform="translate(646.133887 134.508741)" style="fill: #1f77b4"/>
     <path d="M 0 6.871795 C 1.822421 6.871795 3.570446 6.147739 4.859093 4.859093 C 6.147739 3.570446 6.871795 1.822421 6.871795 0 C 6.871795 -1.822421 6.147739 -3.570446 4.859093 -4.859093 C 3.570446 -6.147739 1.822421 -6.871795 0 -6.871795 C -1.822421 -6.871795 -3.570446 -6.147739 -4.859093 -4.859093 C -6.147739 -3.570446 -6.871795 -1.822421 -6.871795 0 C -6.871795 1.822421 -6.147739 3.570446 -4.859093 4.859093 C -3.570446 6.147739 -1.822421 6.871795 0 6.871795 z" transform="translate(861.275058 29.121212)" style="fill: #1f77b4"/>
    </g>
   </g>
   <g id="line2d_18">
    <g clip-path="url(#p900b31e231)">
     <path d="M -6.871795 6.871795 L 6.871795 6.871795 L 6.871795 -6.871795 L -6.871795 -6.871795 z" transform="translate(538.058275 270.006993)" style="fill: #ff7f0e"/>
     <path d="M -6.871795 6.871795 L 6.871795 6.871795 L 6.871795 -6.871795 L -6.871795 -6.871795 z" transform="translate(538.058275 266.995921)" style="fill: #ff7f0e"/>
     <path d="M -6.871795 6.871795 L 6.871795 6.871795 L 6.871795 -6.871795 L -6.871795 -6.871795 z" transform="translate(538.058275 263.984848)" style="fill: #ff7f0e"/>
     <path d="M -6.871795 6.871795 L 6.871795 6.871795 L 6.871795 -6.871795 L -6.871795 -6.871795 z" transform="translate(538.058275 260.973776)" style="fill: #ff7f0e"/>
     <path d="M -6.871795 6.871795 L 6.871795 6.871795 L 6.871795 -6.871795 L -6.871795 -6.871795 z" transform="translate(538.058275 257.962704)" style="fill: #ff7f0e"/>
     <path d="M -6.871795 6.871795 L 6.871795 6.871795 L 6.871795 -6.871795 L -6.871795 -6.871795 z" transform="translate(538.058275 254.951632)" style="fill: #ff7f0e"/>
     <path d="M -6.871795 6.871795 L 6.871795 6.871795 L 6.871795 -6.871795 L -6.871795 -6.871795 z" transform="translate(538.058275 251.940559)" style="fill: #ff7f0e"/>
     <path d="M -6.871795 6.871795 L 6.871795 6.871795 L 6.871795 -6.871795 L -6.871795 -6.871795 z" transform="translate(538.058275 248.929487)" style="fill: #ff7f0e"/>
     <path d="M -6.871795 6.871795 L 6.871795 6.871795 L 6.871795 -6.871795 L -6.871795 -6.871795 z" transform="translate(538.058275 245.918415)" style="fill: #ff7f0e"/>
     <path d="M -6.871795 6.871795 L 6.871795 6.871795 L 6.871795 -6.871795 L -6.871795 -6.871795 z" transform="translate(548.1588 270.006993)" style="fill: #ff7f0e"/>
     <path d="M -6.871795 6.871795 L 6.871795 6.871795 L 6.871795 -6.871795 L -6.871795 -6.871795 z" transform="translate(639.06352 270.006993)" style="fill: #ff7f0e"/>
    </g>
   </g>
   <g id="line2d_19">
    <g clip-path="url(#p900b31e231)">
     <path d="M -6.871795 -0 L 6.871795 6.871795 L 6.871795 -6.871795 z" transform="translate(538.058275 270.006993)" style="fill: #2ca02c"/>
     <path d="M -6.871795 -0 L 6.871795 6.871795 L 6.871795 -6.871795 z" transform="translate(548.1588 270.006993)" style="fill: #2ca02c"/>
     <path d="M -6.871795 -0 L 6.871795 6.871795 L 6.871795 -6.871795 z" transform="translate(639.06352 270.006993)" style="fill: #2ca02c"/>
     <path d="M -6.871795 -0 L 6.871795 6.871795 L 6.871795 -6.871795 z" transform="translate(740.068765 270.006993)" style="fill: #2ca02c"/>
     <path d="M -6.871795 -0 L 6.871795 6.871795 L 6.871795 -6.871795 z" transform="translate(841.074009 270.006993)" style="fill: #2ca02c"/>
    </g>
   </g>
   <g id="line2d_20">
    <g clip-path="url(#p900b31e231)">
     <path d="M 6.871795 0 L -6.871795 -6.871795 L -6.871795 6.871795 z" transform="translate(538.058275 270.006993)" style="fill: #d62728"/>
     <path d="M 6.871795 0 L -6.871795 -6.871795 L -6.871795 6.871795 z" transform="translate(548.1588 270.006993)" style="fill: #d62728"/>
     <path d="M 6.871795 0 L -6.871795 -6.871795 L -6.871795 6.871795 z" transform="translate(639.06352 270.006993)" style="fill: #d62728"/>
     <path d="M 6.871795 0 L -6.871795 -6.871795 L -6.871795 6.871795 z" transform="translate(740.068765 270.006993)" style="fill: #d62728"/>
     <path d="M 6.871795 0 L -6.871795 -6.871795 L -6.871795 6.871795 z" transform="translate(841.074009 270.006993)" style="fill: #d62728"/>
    </g>
   </g>
   <g id="patch_3">
    <path d="M 521.897436 282.051282 L 521.897436 17.076923" style="fill: none; stroke: #000000; stroke-width: 1.025641; stroke-linejoin: miter; stroke-linecap: square"/>
   </g>
   <g id="patch_4">
    <path d="M 877.435897 282.051282 L 877.435897 17.076923" style="fill: none; stroke: #000000; stroke-width: 1.025641; stroke-linejoin: miter; stroke-linecap: square"/>
   </g>
   <g id="patch_5">
    <path d="M 521.897436 282.051282 L 877.435897 282.051282" style="fill: none; stroke: #000000; stroke-width: 1.025641; stroke-linejoin: miter; stroke-linecap: square"/>
   </g>
   <g id="patch_6">
    <path d="M 521.897436 17.076923 L 877.435897 17.076923" style="fill: none; stroke: #000000; stroke-width: 1.025641; stroke-linejoin: miter; stroke-linecap: square"/>
   </g>
   <g id="text_19">
    <text style="font-size: 18px; font-family: 'DejaVu Sans', sans-serif; text-anchor: start" x="740.068765" y="59.231935" transform="rotate(-0 740.068765 59.231935)">(b)</text>
   </g>
   <g id="legend_1">
    <g id="patch_7">
     <path d="M 533.097436 123.816923 L 628.087436 123.816923 Q 631.287436 123.816923 631.287436 120.616923 L 631.287436 28.276923 Q 631.287436 25.076923 628.087436 25.076923 L 533.097436 25.076923 Q 529.897436 25.076923 529.897436 28.276923 L 529.897436 120.616923 Q 529.897436 123.816923 533.097436 123.816923 z" style="fill: #ffffff; opacity: 0.8; stroke: #cccccc; stroke-linejoin: miter"/>
    </g>
    <g id="line2d_21">
     <g>
      <path d="M 0 6.871795 C 1.822421 6.871795 3.570446 6.147739 4.859093 4.859093 C 6.147739 3.570446 6.871795 1.822421 6.871795 0 C 6.871795 -1.822421 6.147739 -3.570446 4.859093 -4.859093 C 3.570446 -6.147739 1.822421 -6.871795 0 -6.871795 C -1.822421 -6.871795 -3.570446 -6.147739 -4.859093 -4.859093 C -6.147739 -3.570446 -6.871795 -1.822421 -6.871795 0 C -6.871795 1.822421 -6.147739 3.570446 -4.859093 4.859093 C -3.570446 6.147739 -1.822421 6.871795 0 6.871795 z" transform="translate(552.297436 38.034423)" style="fill: #1f77b4"/>
     </g>
    </g>
    <g id="text_20">
     <text style="font-size: 16px; font-family: 'DejaVu Sans', sans-serif; text-anchor: start" x="581.097436" y="43.634423" transform="rotate(-0 581.097436 43.634423)">liquid</text>
    </g>
    <g id="line2d_22">
     <g>
      <path d="M -6.871795 6.871795 L 6.871795 6.871795 L 6.871795 -6.871795 L -6.871795 -6.871795 z" transform="translate(552.297436 61.519423)" style="fill: #ff7f0e"/>
     </g>
    </g>
    <g id="text_21">
     <text style="font-size: 16px; font-family: 'DejaVu Sans', sans-serif; text-anchor: start" x="581.097436" y="67.119423" transform="rotate(-0 581.097436 67.119423)">fcc</text>
    </g>
    <g id="line2d_23">
     <g>
      <path d="M -6.871795 -0 L 6.871795 6.871795 L 6.871795 -6.871795 z" transform="translate(552.297436 85.004423)" style="fill: #2ca02c"/>
     </g>
    </g>
    <g id="text_22">
     <text style="font-size: 16px; font-family: 'DejaVu Sans', sans-serif; text-anchor: start" x="581.097436" y="90.604423" transform="rotate(-0 581.097436 90.604423)">hcp</text>
    </g>
    <g id="line2d_24">
     <g>
      <path d="M 6.871795 0 L -6.871795 -6.871795 L -6.871795 6.871795 z" transform="translate(552.297436 108.489423)" style="fill: #d62728"/>
     </g>
    </g>
    <g id="text_23">
     <text style="font-size: 16px; font-family: 'DejaVu Sans', sans-serif; text-anchor: start" x="581.097436" y="114.089423" transform="rotate(-0 581.097436 114.089423)">bcc</text>
    </g>
   </g>
  </g>
 </g>
 <defs>
  <clipPath id="p900b31e231">
   <rect x="521.897436" y="17.076923" width="355.538462" height="264.974359"/>
  </clipPath>
 </defs>
</svg>
<svg width="1725" height="1260" viewBox="0 0 917.553191 670.212766" version="1.1">
 <defs>
  <style type="text/css">*{stroke-linejoin: round; stroke-linecap: butt}</style>
 </defs>
 <g id="figure_1">
  <g id="patch_1">
   <path d="M 0 670.212766 L 917.553191 670.212766 L 917.553191 0 L 0 0 L 0 670.212766 z" style="fill: none"/>
  </g>
  <g id="axes_1">
   <g id="patch_2">
    <path d="M 307.074468 619.202128 L 591.010638 619.202128 L 591.010638 354.893617 L 307.074468 354.893617 L 307.074468 619.202128 z" style="fill: none"/>
   </g>
   <g id="PathCollection_1">
    <g clip-path="url(#pbe6b0d058a)">
     <path d="M 0 6.861702 C 1.819745 6.861702 3.565202 6.13871 4.851956 4.851956 C 6.13871 3.565202 6.861702 1.819745 6.861702 -0 C 6.861702 -1.819745 6.13871 -3.565202 4.851956 -4.851956 C 3.565202 -6.13871 1.819745 -6.861702 0 -6.861702 C -1.819745 -6.861702 -3.565202 -6.13871 -4.851956 -4.851956 C -6.13871 -3.565202 -6.861702 -1.819745 -6.861702 0 C -6.861702 1.819745 -6.13871 3.565202 -4.851956 4.851956 C -3.565202 6.13871 -1.819745 6.861702 0 6.861702 z" transform="translate(329.218755 381.861702)" style="fill: #fde725"/>
    </g>
    <g clip-path="url(#pbe6b0d058a)">
     <path d="M 0 6.861702 C 1.819745 6.861702 3.565202 6.13871 4.851956 4.851956 C 6.13871 3.565202 6.861702 1.819745 6.861702 -0 C 6.861702 -1.819745 6.13871 -3.565202 4.851956 -4.851956 C 3.565202 -6.13871 1.819745 -6.861702 0 -6.861702 C -1.819745 -6.861702 -3.565202 -6.13871 -4.851956 -4.851956 C -6.13871 -3.565202 -6.861702 -1.819745 -6.861702 0 C -6.861702 1.819745 -6.13871 3.565202 -4.851956 4.851956 C -3.565202 6.13871 -1.819745 6.861702 0 6.861702 z" transform="translate(329.218755 411.989362)" style="fill: #fde725"/>
    </g>
    <g clip-path="url(#pbe6b0d058a)">
     <path d="M 0 6.861702 C 1.819745 6.861702 3.565202 6.13871 4.851956 4.851956 C 6.13871 3.565202 6.861702 1.819745 6.861702 -0 C 6.861702 -1.819745 6.13871 -3.565202 4.851956 -4.851956 C 3.565202 -6.13871 1.819745 -6.861702 0 -6.861702 C -1.819745 -6.861702 -3.565202 -6.13871 -4.851956 -4.851956 C -6.13871 -3.565202 -6.861702 -1.819745 -6.861702 0 C -6.861702 1.819745 -6.13871 3.565202 -4.851956 4.851956 C -3.565202 6.13871 -1.819745 6.861702 0 6.861702 z" transform="translate(329.218755 419.521277)" style="fill: #fde725"/>
    </g>
    <g clip-path="url(#pbe6b0d058a)">
     <path d="M 0 6.861702 C 1.819745 6.861702 3.565202 6.13871 4.851956 4.851956 C 6.13871 3.565202 6.861702 1.819745 6.861702 -0 C 6.861702 -1.819745 6.13871 -3.565202 4.851956 -4.851956 C 3.565202 -6.13871 1.819745 -6.861702 0 -6.861702 C -1.819745 -6.861702 -3.565202 -6.13871 -4.851956 -4.851956 C -6.13871 -3.565202 -6.861702 -1.819745 -6.861702 0 C -6.861702 1.819745 -6.13871 3.565202 -4.851956 4.851956 C -3.565202 6.13871 -1.819745 6.861702 0 6.861702 z" transform="translate(329.218755 427.053191)" style="fill: #fde725"/>
    </g>
    <g clip-path="url(#pbe6b0d058a)">
     <path d="M 0 6.861702 C 1.819745 6.861702 3.565202 6.13871 4.851956 4.851956 C 6.13871 3.565202 6.861702 1.819745 6.861702 -0 C 6.861702 -1.819745 6.13871 -3.565202 4.851956 -4.851956 C 3.565202 -6.13871 1.819745 -6.861702 0 -6.861702 C -1.819745 -6.861702 -3.565202 -6.13871 -4.851956 -4.851956 C -6.13871 -3.565202 -6.861702 -1.819745 -6.861702 0 C -6.861702 1.819745 -6.13871 3.565202 -4.851956 4.851956 C -3.565202 6.13871 -1.819745 6.861702 0 6.861702 z" transform="translate(329.218755 434.585106)" style="fill: #fde725"/>
    </g>
    <g clip-path="url(#pbe6b0d058a)">
     <path d="M 0 6.861702 C 1.819745 6.861702 3.565202 6.13871 4.851956 4.851956 C 6.13871 3.565202 6.861702 1.819745 6.861702 -0 C 6.861702 -1.819745 6.13871 -3.565202 4.851956 -4.851956 C 3.565202 -6.13871 1.819745 -6.861702 0 -6.861702 C -1.819745 -6.861702 -3.565202 -6.13871 -4.851956 -4.851956 C -6.13871 -3.565202 -6.861702 -1.819745 -6.861702 0 C -6.861702 1.819745 -6.13871 3.565202 -4.851956 4.851956 C -3.565202 6.13871 -1.819745 6.861702 0 6.861702 z" transform="translate(329.218755 442.117021)" style="fill: #fde725"/>
    </g>
    <g clip-path="url(#pbe6b0d058a)">
     <path d="M 0 6.861702 C 1.819745 6.861702 3.565202 6.13871 4.851956 4.851956 C 6.13871 3.565202 6.861702 1.819745 6.861702 -0 C 6.861702 -1.819745 6.13871 -3.565202 4.851956 -4.851956 C 3.565202 -6.13871 1.819745 -6.861702 0 -6.861702 C -1.819745 -6.861702 -3.565202 -6.13871 -4.851956 -4.851956 C -6.13871 -3.565202 -6.861702 -1.819745 -6.861702 0 C -6.861702 1.819745 -6.13871 3.565202 -4.851956 4.851956 C -3.565202 6.13871 -1.819745 6.861702 0 6.861702 z" transform="translate(329.218755 449.648936)" style="fill: #fde725"/>
    </g>
    <g clip-path="url(#pbe6b0d058a)">
     <path d="M 0 6.861702 C 1.819745 6.861702 3.565202 6.13871 4.851956 4.851956 C 6.13871 3.565202 6.861702 1.819745 6.861702 -0 C 6.861702 -1.819745 6.13871 -3.565202 4.851956 -4.851956 C 3.565202 -6.13871 1.819745 -6.861702 0 -6.861702 C -1.819745 -6.861702 -3.565202 -6.13871 -4.851956 -4.851956 C -6.13871 -3.565202 -6.861702 -1.819745 -6.861702 0 C -6.861702 1.819745 -6.13871 3.565202 -4.851956 4.851956 C -3.565202 6.13871 -1.819745 6.861702 0 6.861702 z" transform="translate(329.218755 457.180851)" style="fill: #fde725"/>
    </g>
    <g clip-path="url(#pbe6b0d058a)">
     <path d="M 0 6.861702 C 1.819745 6.861702 3.565202 6.13871 4.851956 4.851956 C 6.13871 3.565202 6.861702 1.819745 6.861702 -0 C 6.861702 -1.819745 6.13871 -3.565202 4.851956 -4.851956 C 3.565202 -6.13871 1.819745 -6.861702 0 -6.861702 C -1.819745 -6.861702 -3.565202 -6.13871 -4.851956 -4.851956 C -6.13871 -3.565202 -6.861702 -1.819745 -6.861702 0 C -6.861702 1.819745 -6.13871 3.565202 -4.851956 4.851956 C -3.565202 6.13871 -1.819745 6.861702 0 6.861702 z" transform="translate(328.993443 460.79617)" style="fill: #1fa188"/>
    </g>
    <g clip-path="url(#pbe6b0d058a)">
     <path d="M 0 6.861702 C 1.819745 6.861702 3.565202 6.13871 4.851956 4.851956 C 6.13871 3.565202 6.861702 1.819745 6.861702 -0 C 6.861702 -1.819745 6.13871 -3.565202 4.851956 -4.851956 C 3.565202 -6.13871 1.819745 -6.861702 0 -6.861702 C -1.819745 -6.861702 -3.565202 -6.13871 -4.851956 -4.851956 C -6.13871 -3.565202 -6.861702 -1.819745 -6.861702 0 C -6.861702 1.819745 -6.13871 3.565202 -4.851956 4.851956 C -3.565202 6.13871 -1.819745 6.861702 0 6.861702 z" transform="translate(329.218755 464.712766)" style="fill: #fde725"/>
    </g>
    <g clip-path="url(#pbe6b0d058a)">
     <path d="M 0 6.861702 C 1.819745 6.861702 3.565202 6.13871 4.851956 4.851956 C 6.13871 3.565202 6.861702 1.819745 6.861702 -0 C 6.861702 -1.819745 6.13871 -3.565202 4.851956 -4.851956 C 3.565202 -6.13871 1.819745 -6.861702 0 -6.861702 C -1.819745 -6.861702 -3.565202 -6.13871 -4.851956 -4.851956 C -6.13871 -3.565202 -6.861702 -1.819745 -6.861702 0 C -6.861702 1.819745 -6.13871 3.565202 -4.851956 4.851956 C -3.565202 6.13871 -1.819745 6.861702 0 6.861702 z" transform="translate(329.218755 472.244681)" style="fill: #fde725"/>
    </g>
    <g clip-path="url(#pbe6b0d058a)">
     <path d="M 0 6.861702 C 1.819745 6.861702 3.565202 6.13871 4.851956 4.851956 C 6.13871 3.565202 6.861702 1.819745 6.861702 -0 C 6.861702 -1.819745 6.13871 -3.565202 4.851956 -4.851956 C 3.565202 -6.13871 1.819745 -6.861702 0 -6.861702 C -1.819745 -6.861702 -3.565202 -6.13871 -4.851956 -4.851956 C -6.13871 -3.565202 -6.861702 -1.819745 -6.861702 0 C -6.861702 1.819745 -6.13871 3.565202 -4.851956 4.851956 C -3.565202 6.13871 -1.819745 6.861702 0 6.861702 z" transform="translate(329.218755 479.776596)" style="fill: #fde725"/>
    </g>
    <g clip-path="url(#pbe6b0d058a)">
     <path d="M 0 6.861702 C 1.819745 6.861702 3.565202 6.13871 4.851956 4.851956 C 6.13871 3.565202 6.861702 1.819745 6.861702 -0 C 6.861702 -1.819745 6.13871 -3.565202 4.851956 -4.851956 C 3.565202 -6.13871 1.819745 -6.861702 0 -6.861702 C -1.819745 -6.861702 -3.565202 -6.13871 -4.851956 -4.851956 C -6.13871 -3.565202 -6.861702 -1.819745 -6.861702 0 C -6.861702 1.819745 -6.13871 3.565202 -4.851956 4.851956 C -3.565202 6.13871 -1.819745 6.861702 0 6.861702 z" transform="translate(320.124313 366.797872)" style="fill: #463480"/>
    </g>
    <g clip-path="url(#pbe6b0d058a)">
     <path d="M 0 6.861702 C 1.819745 6.861702 3.565202 6.13871 4.851956 4.851956 C 6.13871 3.565202 6.861702 1.819745 6.861702 -0 C 6.861702 -1.819745 6.13871 -3.565202 4.851956 -4.851956 C 3.565202 -6.13871 1.819745 -6.861702 0 -6.861702 C -1.819745 -6.861702 -3.565202 -6.13871 -4.851956 -4.851956 C -6.13871 -3.565202 -6.861702 -1.819745 -6.861702 0 C -6.861702 1.819745 -6.13871 3.565202 -4.851956 4.851956 C -3.565202 6.13871 -1.819745 6.861702 0 6.861702 z" transform="translate(321.8244 366.797872)" style="fill: #463480"/>
    </g>
    <g clip-path="url(#pbe6b0d058a)">
     <path d="M 0 6.861702 C 1.819745 6.861702 3.565202 6.13871 4.851956 4.851956 C 6.13871 3.565202 6.861702 1.819745 6.861702 -0 C 6.861702 -1.819745 6.13871 -3.565202 4.851956 -4.851956 C 3.565202 -6.13871 1.819745 -6.861702 0 -6.861702 C -1.819745 -6.861702 -3.565202 -6.13871 -4.851956 -4.851956 C -6.13871 -3.565202 -6.861702 -1.819745 -6.861702 0 C -6.861702 1.819745 -6.13871 3.565202 -4.851956 4.851956 C -3.565202 6.13871 -1.819745 6.861702 0 6.861702 z" transform="translate(342.573657 366.797872)" style="fill: #463480"/>
    </g>
    <g clip-path="url(#pbe6b0d058a)">
     <path d="M 0 6.861702 C 1.819745 6.861702 3.565202 6.13871 4.851956 4.851956 C 6.13871 3.565202 6.861702 1.819745 6.861702 -0 C 6.861702 -1.819745 6.13871 -3.565202 4.851956 -4.851956 C 3.565202 -6.13871 1.819745 -6.861702 0 -6.861702 C -1.819745 -6.861702 -3.565202 -6.13871 -4.851956 -4.851956 C -6.13871 -3.565202 -6.861702 -1.819745 -6.861702 0 C -6.861702 1.819745 -6.13871 3.565202 -4.851956 4.851956 C -3.565202 6.13871 -1.819745 6.861702 0 6.861702 z" transform="translate(379.402053 366.797872)" style="fill: #44bf70"/>
    </g>
    <g clip-path="url(#pbe6b0d058a)">
     <path d="M 0 6.861702 C 1.819745 6.861702 3.565202 6.13871 4.851956 4.851956 C 6.13871 3.565202 6.861702 1.819745 6.861702 -0 C 6.861702 -1.819745 6.13871 -3.565202 4.851956 -4.851956 C 3.565202 -6.13871 1.819745 -6.861702 0 -6.861702 C -1.819745 -6.861702 -3.565202 -6.13871 -4.851956 -4.851956 C -6.13871 -3.565202 -6.861702 -1.819745 -6.861702 0 C -6.861702 1.819745 -6.13871 3.565202 -4.851956 4.851956 C -3.565202 6.13871 -1.819745 6.861702 0 6.861702 z" transform="translate(455.291489 366.797872)" style="fill: #463480"/>
    </g>
    <g clip-path="url(#pbe6b0d058a)">
     <path d="M 0 6.861702 C 1.819745 6.861702 3.565202 6.13871 4.851956 4.851956 C 6.13871 3.565202 6.861702 1.819745 6.861702 -0 C 6.861702 -1.819745 6.13871 -3.565202 4.851956 -4.851956 C 3.565202 -6.13871 1.819745 -6.861702 0 -6.861702 C -1.819745 -6.861702 -3.565202 -6.13871 -4.851956 -4.851956 C -6.13871 -3.565202 -6.861702 -1.819745 -6.861702 0 C -6.861702 1.819745 -6.13871 3.565202 -4.851956 4.851956 C -3.565202 6.13871 -1.819745 6.861702 0 6.861702 z" transform="translate(440.850989 411.989362)" style="fill: #44bf70"/>
    </g>
    <g clip-path="url(#pbe6b0d058a)">
     <path d="M 0 6.861702 C 1.819745 6.861702 3.565202 6.13871 4.851956 4.851956 C 6.13871 3.565202 6.861702 1.819745 6.861702 -0 C 6.861702 -1.819745 6.13871 -3.565202 4.851956 -4.851956 C 3.565202 -6.13871 1.819745 -6.861702 0 -6.861702 C -1.819745 -6.861702 -3.565202 -6.13871 -4.851956 -4.851956 C -6.13871 -3.565202 -6.861702 -1.819745 -6.861702 0 C -6.861702 1.819745 -6.13871 3.565202 -4.851956 4.851956 C -3.565202 6.13871 -1.819745 6.861702 0 6.861702 z" transform="translate(424.300743 517.43617)" style="fill: #7ad151"/>
    </g>
    <g clip-path="url(#pbe6b0d058a)">
     <path d="M 0 6.861702 C 1.819745 6.861702 3.565202 6.13871 4.851956 4.851956 C 6.13871 3.565202 6.861702 1.819745 6.861702 -0 C 6.861702 -1.819745 6.13871 -3.565202 4.851956 -4.851956 C 3.565202 -6.13871 1.819745 -6.861702 0 -6.861702 C -1.819745 -6.861702 -3.565202 -6.13871 -4.851956 -4.851956 C -6.13871 -3.565202 -6.861702 -1.819745 -6.861702 0 C -6.861702 1.819745 -6.13871 3.565202 -4.851956 4.851956 C -3.565202 6.13871 -1.819745 6.861702 0 6.861702 z" transform="translate(529.030213 532.5)" style="fill: #44bf70"/>
    </g>
    <g clip-path="url(#pbe6b0d058a)">
     <path d="M 0 6.861702 C 1.819745 6.861702 3.565202 6.13871 4.851956 4.851956 C 6.13871 3.565202 6.861702 1.819745 6.861702 -0 C 6.861702 -1.819745 6.13871 -3.565202 4.851956 -4.851956 C 3.565202 -6.13871 1.819745 -6.861702 0 -6.861702 C -1.819745 -6.861702 -3.565202 -6.13871 -4.851956 -4.851956 C -6.13871 -3.565202 -6.861702 -1.819745 -6.861702 0 C -6.861702 1.819745 -6.13871 3.565202 -4.851956 4.851956 C -3.565202 6.13871 -1.819745 6.861702 0 6.861702 z" transform="translate(442.91977 585.223404)" style="fill: #44bf70"/>
    </g>
   </g>
   <g id="PathCollection_2">
    <path d="M 348.317053 457.180851 L 334.700032 450.37234 L 334.700032 463.989362 z" clip-path="url(#pbe6b0d058a)" style="fill: #471063"/>
    <path d="M 348.317053 472.244681 L 334.700032 465.43617 L 334.700032 479.053191 z" clip-path="url(#pbe6b0d058a)" style="fill: #440154"/>
    <path d="M 348.317053 487.308511 L 334.700032 480.5 L 334.700032 494.117021 z" clip-path="url(#pbe6b0d058a)" style="fill: #440154"/>
    <path d="M 348.317053 502.37234 L 334.700032 495.56383 L 334.700032 509.180851 z" clip-path="url(#pbe6b0d058a)" style="fill: #440154"/>
    <path d="M 348.317053 517.43617 L 334.700032 510.62766 L 334.700032 524.244681 z" clip-path="url(#pbe6b0d058a)" style="fill: #440154"/>
    <path d="M 348.317053 532.5 L 334.700032 525.691489 L 334.700032 539.308511 z" clip-path="url(#pbe6b0d058a)" style="fill: #450457"/>
    <path d="M 348.317053 547.56383 L 334.700032 540.755319 L 334.700032 554.37234 z" clip-path="url(#pbe6b0d058a)" style="fill: #472e7c"/>
    <path d="M 348.317053 562.62766 L 334.700032 555.819149 L 334.700032 569.43617 z" clip-path="url(#pbe6b0d058a)" style="fill: #481769"/>
    <path d="M 348.317053 577.691489 L 334.700032 570.882979 L 334.700032 584.5 z" clip-path="url(#pbe6b0d058a)" style="fill: #482475"/>
    <path d="M 348.317053 592.755319 L 334.700032 585.946809 L 334.700032 599.56383 z" clip-path="url(#pbe6b0d058a)" style="fill: #482475"/>
    <path d="M 348.317053 607.819149 L 334.700032 601.010638 L 334.700032 614.62766 z" clip-path="url(#pbe6b0d058a)" style="fill: #21918c"/>
    <path d="M 421.215974 607.819149 L 407.598953 601.010638 L 407.598953 614.62766 z" clip-path="url(#pbe6b0d058a)" style="fill: #22a884"/>
    <path d="M 585.202702 607.819149 L 571.585681 601.010638 L 571.585681 614.62766 z" clip-path="url(#pbe6b0d058a)" style="fill: #2d718e"/>
   </g>
   <g id="PathCollection_3">
    <path d="M 329.067213 607.819149 L 342.684234 614.62766 L 342.684234 601.010638 z" clip-path="url(#pbe6b0d058a)" style="fill: #287d8e"/>
    <path d="M 329.067213 457.180851 L 342.684234 463.989362 L 342.684234 450.37234 z" clip-path="url(#pbe6b0d058a)" style="fill: #481a6c"/>
    <path d="M 329.067213 472.244681 L 342.684234 479.053191 L 342.684234 465.43617 z" clip-path="url(#pbe6b0d058a)" style="fill: #481d6f"/>
    <path d="M 329.067213 487.308511 L 342.684234 494.117021 L 342.684234 480.5 z" clip-path="url(#pbe6b0d058a)" style="fill: #481d6f"/>
    <path d="M 329.067213 502.37234 L 342.684234 509.180851 L 342.684234 495.56383 z" clip-path="url(#pbe6b0d058a)" style="fill: #482173"/>
    <path d="M 329.067213 517.43617 L 342.684234 524.244681 L 342.684234 510.62766 z" clip-path="url(#pbe6b0d058a)" style="fill: #482475"/>
    <path d="M 329.067213 532.5 L 342.684234 539.308511 L 342.684234 525.691489 z" clip-path="url(#pbe6b0d058a)" style="fill: #482878"/>
    <path d="M 329.067213 547.56383 L 342.684234 554.37234 L 342.684234 540.755319 z" clip-path="url(#pbe6b0d058a)" style="fill: #472e7c"/>
    <path d="M 329.067213 562.62766 L 342.684234 569.43617 L 342.684234 555.819149 z" clip-path="url(#pbe6b0d058a)" style="fill: #472e7c"/>
    <path d="M 329.067213 577.691489 L 342.684234 584.5 L 342.684234 570.882979 z" clip-path="url(#pbe6b0d058a)" style="fill: #463480"/>
    <path d="M 329.067213 592.755319 L 342.684234 599.56383 L 342.684234 585.946809 z" clip-path="url(#pbe6b0d058a)" style="fill: #433e85"/>
    <path d="M 356.248126 607.819149 L 369.865147 614.62766 L 369.865147 601.010638 z" clip-path="url(#pbe6b0d058a)" style="fill: #2d718e"/>
    <path d="M 366.530581 607.819149 L 380.147602 614.62766 L 380.147602 601.010638 z" clip-path="url(#pbe6b0d058a)" style="fill: #2d718e"/>
    <path d="M 417.594647 607.819149 L 431.211668 614.62766 L 431.211668 601.010638 z" clip-path="url(#pbe6b0d058a)" style="fill: #2d718e"/>
    <path d="M 464.889845 607.819149 L 478.506866 614.62766 L 478.506866 601.010638 z" clip-path="url(#pbe6b0d058a)" style="fill: #2d718e"/>
   </g>
   <g id="PathCollection_4">
    <g clip-path="url(#pbe6b0d058a)">
     <path d="M -6.648936 6.648936 L 6.648936 6.648936 L 6.648936 -6.648936 L -6.648936 -6.648936 z" transform="translate(323.012413 457.180851)" style="fill: #482475"/>
    </g>
    <g clip-path="url(#pbe6b0d058a)">
     <path d="M -6.648936 6.648936 L 6.648936 6.648936 L 6.648936 -6.648936 L -6.648936 -6.648936 z" transform="translate(323.012413 472.244681)" style="fill: #482475"/>
    </g>
    <g clip-path="url(#pbe6b0d058a)">
     <path d="M -6.648936 6.648936 L 6.648936 6.648936 L 6.648936 -6.648936 L -6.648936 -6.648936 z" transform="translate(323.012413 487.308511)" style="fill: #482475"/>
    </g>
    <g clip-path="url(#pbe6b0d058a)">
     <path d="M -6.648936 6.648936 L 6.648936 6.648936 L 6.648936 -6.648936 L -6.648936 -6.648936 z" transform="translate(323.012413 502.37234)" style="fill: #482878"/>
    </g>
    <g clip-path="url(#pbe6b0d058a)">
     <path d="M -6.648936 6.648936 L 6.648936 6.648936 L 6.648936 -6.648936 L -6.648936 -6.648936 z" transform="translate(323.012413 517.43617)" style="fill: #472a7a"/>
    </g>
    <g clip-path="url(#pbe6b0d058a)">
     <path d="M -6.648936 6.648936 L 6.648936 6.648936 L 6.648936 -6.648936 L -6.648936 -6.648936 z" transform="translate(323.012413 532.5)" style="fill: #472e7c"/>
    </g>
    <g clip-path="url(#pbe6b0d058a)">
     <path d="M -6.648936 6.648936 L 6.648936 6.648936 L 6.648936 -6.648936 L -6.648936 -6.648936 z" transform="translate(323.012413 547.56383)" style="fill: #46307e"/>
    </g>
    <g clip-path="url(#pbe6b0d058a)">
     <path d="M -6.648936 6.648936 L 6.648936 6.648936 L 6.648936 -6.648936 L -6.648936 -6.648936 z" transform="translate(323.012413 562.62766)" style="fill: #463480"/>
    </g>
    <g clip-path="url(#pbe6b0d058a)">
     <path d="M -6.648936 6.648936 L 6.648936 6.648936 L 6.648936 -6.648936 L -6.648936 -6.648936 z" transform="translate(323.012413 577.691489)" style="fill: #424086"/>
    </g>
    <g clip-path="url(#pbe6b0d058a)">
     <path d="M -6.648936 6.648936 L 6.648936 6.648936 L 6.648936 -6.648936 L -6.648936 -6.648936 z" transform="translate(323.012413 592.755319)" style="fill: #2e6f8e"/>
    </g>
    <g clip-path="url(#pbe6b0d058a)">
     <path d="M -6.648936 6.648936 L 6.648936 6.648936 L 6.648936 -6.648936 L -6.648936 -6.648936 z" transform="translate(323.012413 607.819149)" style="fill: #26828e"/>
    </g>
    <g clip-path="url(#pbe6b0d058a)">
     <path d="M -6.648936 6.648936 L 6.648936 6.648936 L 6.648936 -6.648936 L -6.648936 -6.648936 z" transform="translate(543.573128 607.819149)" style="fill: #2d718e"/>
    </g>
    <g clip-path="url(#pbe6b0d058a)">
     <path d="M -6.648936 6.648936 L 6.648936 6.648936 L 6.648936 -6.648936 L -6.648936 -6.648936 z" transform="translate(547.403445 607.819149)" style="fill: #2d718e"/>
    </g>
   </g>
   <g id="patch_3">
    <path d="M 311.910638 615.351064 L 352.876596 615.351064 L 352.876596 374.329787 L 311.910638 374.329787 L 311.910638 615.351064 z" clip-path="url(#pbe6b0d058a)" style="fill: none; stroke-dasharray: 3.7,1.6; stroke-dashoffset: 0; stroke: #000000; stroke-linejoin: miter"/>
   </g>
   <g id="matplotlib.axis_1">
    <g id="xtick_1">
     <g id="line2d_1">
      <g>
       <path d="M 0 0 L 0 3.5" transform="translate(332.393617 619.202128)" style="stroke: #000000; stroke-width: 0.797872"/>
      </g>
     </g>
     <g id="text_1">
      <text style="font-size: 16px; font-family: 'DejaVu Sans', sans-serif; text-anchor: middle" x="332.393617" y="638.359628" transform="rotate(-0 332.393617 638.359628)">0</text>
     </g>
    </g>
    <g id="xtick_2">
     <g id="line2d_2">
      <g>
       <path d="M 0 0 L 0 3.5" transform="translate(373.359574 619.202128)" style="stroke: #000000; stroke-width: 0.797872"/>
      </g>
     </g>
     <g id="text_2">
      <text style="font-size: 16px; font-family: 'DejaVu Sans', sans-serif; text-anchor: middle" x="373.359574" y="638.359628" transform="rotate(-0 373.359574 638.359628)">20</text>
     </g>
    </g>
    <g id="xtick_3">
     <g id="line2d_3">
      <g>
       <path d="M 0 0 L 0 3.5" transform="translate(414.325532 619.202128)" style="stroke: #000000; stroke-width: 0.797872"/>
      </g>
     </g>
     <g id="text_3">
      <text style="font-size: 16px; font-family: 'DejaVu Sans', sans-serif; text-anchor: middle" x="414.325532" y="638.359628" transform="rotate(-0 414.325532 638.359628)">40</text>
     </g>
    </g>
    <g id="xtick_4">
     <g id="line2d_4">
      <g>
       <path d="M 0 0 L 0 3.5" transform="translate(455.291489 619.202128)" style="stroke: #000000; stroke-width: 0.797872"/>
      </g>
     </g>
     <g id="text_4">
      <text style="font-size: 16px; font-family: 'DejaVu Sans', sans-serif; text-anchor: middle" x="455.291489" y="638.359628" transform="rotate(-0 455.291489 638.359628)">60</text>
     </g>
    </g>
    <g id="xtick_5">
     <g id="line2d_5">
      <g>
       <path d="M 0 0 L 0 3.5" transform="translate(496.257447 619.202128)" style="stroke: #000000; stroke-width: 0.797872"/>
      </g>
     </g>
     <g id="text_5">
      <text style="font-size: 16px; font-family: 'DejaVu Sans', sans-serif; text-anchor: middle" x="496.257447" y="638.359628" transform="rotate(-0 496.257447 638.359628)">80</text>
     </g>
    </g>
    <g id="xtick_6">
     <g id="line2d_6">
      <g>
       <path d="M 0 0 L 0 3.5" transform="translate(537.223404 619.202128)" style="stroke: #000000; stroke-width: 0.797872"/>
      </g>
     </g>
     <g id="text_6">
      <text style="font-size: 16px; font-family: 'DejaVu Sans', sans-serif; text-anchor: middle" x="537.223404" y="638.359628" transform="rotate(-0 537.223404 638.359628)">100</text>
     </g>
    </g>
    <g id="xtick_7">
     <g id="line2d_7">
      <g>
       <path d="M 0 0 L 0 3.5" transform="translate(578.189362 619.202128)" style="stroke: #000000; stroke-width: 0.797872"/>
      </g>
     </g>
     <g id="text_7">
      <text style="font-size: 16px; font-family: 'DejaVu Sans', sans-serif; text-anchor: middle" x="578.189362" y="638.359628" transform="rotate(-0 578.189362 638.359628)">120</text>
     </g>
    </g>
    <g id="text_8">
     <!-- $P$ (GPa) -->
     <g transform="translate(415.742553 659.364315)">
      <text>
       <tspan x="0" y="-0.34375" style="font-style: oblique; font-size: 18px; font-family: 'DejaVu Sans', sans-serif">P</tspan>
       <tspan x="10.854492" y="-0.34375" style="font-size: 18px; font-family: 'DejaVu Sans', sans-serif"> </tspan>
       <tspan x="16.576172" y="-0.34375" style="font-size: 18px; font-family: 'DejaVu Sans', sans-serif">(</tspan>
       <tspan x="23.598633" y="-0.34375" style="font-size: 18px; font-family: 'DejaVu Sans', sans-serif">G</tspan>
       <tspan x="37.546875" y="-0.34375" style="font-size: 18px; font-family: 'DejaVu Sans', sans-serif">P</tspan>
       <tspan x="48.401367" y="-0.34375" style="font-size: 18px; font-family: 'DejaVu Sans', sans-serif">a</tspan>
       <tspan x="59.431641" y="-0.34375" style="font-size: 18px; font-family: 'DejaVu Sans', sans-serif">)</tspan>
      </text>
     </g>
    </g>
   </g>
   <g id="matplotlib.axis_2">
    <g id="ytick_1">
     <g id="line2d_8">
      <g>
       <path d="M 0 0 L -3.5 0" transform="translate(307.074468 607.819149)" style="stroke: #000000; stroke-width: 0.797872"/>
      </g>
     </g>
     <g id="text_9">
      <text style="font-size: 16px; font-family: 'DejaVu Sans', sans-serif; text-anchor: end" x="300.074468" y="613.897899" transform="rotate(-0 300.074468 613.897899)">0</text>
     </g>
    </g>
    <g id="ytick_2">
     <g id="line2d_9">
      <g>
       <path d="M 0 0 L -3.5 0" transform="translate(307.074468 570.159574)" style="stroke: #000000; stroke-width: 0.797872"/>
      </g>
     </g>
     <g id="text_10">
      <text style="font-size: 16px; font-family: 'DejaVu Sans', sans-serif; text-anchor: end" x="300.074468" y="576.238324" transform="rotate(-0 300.074468 576.238324)">500</text>
     </g>
    </g>
    <g id="ytick_3">
     <g id="line2d_10">
      <g>
       <path d="M 0 0 L -3.5 0" transform="translate(307.074468 532.5)" style="stroke: #000000; stroke-width: 0.797872"/>
      </g>
     </g>
     <g id="text_11">
      <text style="font-size: 16px; font-family: 'DejaVu Sans', sans-serif; text-anchor: end" x="300.074468" y="538.57875" transform="rotate(-0 300.074468 538.57875)">1000</text>
     </g>
    </g>
    <g id="ytick_4">
     <g id="line2d_11">
      <g>
       <path d="M 0 0 L -3.5 0" transform="translate(307.074468 494.840426)" style="stroke: #000000; stroke-width: 0.797872"/>
      </g>
     </g>
     <g id="text_12">
      <text style="font-size: 16px; font-family: 'DejaVu Sans', sans-serif; text-anchor: end" x="300.074468" y="500.919176" transform="rotate(-0 300.074468 500.919176)">1500</text>
     </g>
    </g>
    <g id="ytick_5">
     <g id="line2d_12">
      <g>
       <path d="M 0 0 L -3.5 0" transform="translate(307.074468 457.180851)" style="stroke: #000000; stroke-width: 0.797872"/>
      </g>
     </g>
     <g id="text_13">
      <text style="font-size: 16px; font-family: 'DejaVu Sans', sans-serif; text-anchor: end" x="300.074468" y="463.259601" transform="rotate(-0 300.074468 463.259601)">2000</text>
     </g>
    </g>
    <g id="ytick_6">
     <g id="line2d_13">
      <g>
       <path d="M 0 0 L -3.5 0" transform="translate(307.074468 419.521277)" style="stroke: #000000; stroke-width: 0.797872"/>
      </g>
     </g>
     <g id="text_14">
      <text style="font-size: 16px; font-family: 'DejaVu Sans', sans-serif; text-anchor: end" x="300.074468" y="425.600027" transform="rotate(-0 300.074468 425.600027)">2500</text>
     </g>
    </g>
    <g id="ytick_7">
     <g id="line2d_14">
      <g>
       <path d="M 0 0 L -3.5 0" transform="translate(307.074468 381.861702)" style="stroke: #000000; stroke-width: 0.797872"/>
      </g>
     </g>
     <g id="text_15">
      <text style="font-size: 16px; font-family: 'DejaVu Sans', sans-serif; text-anchor: end" x="300.074468" y="387.940452" transform="rotate(-0 300.074468 387.940452)">3000</text>
     </g>
    </g>
    <g id="text_16">
     <!-- $T$ (K) -->
     <g transform="translate(251.611031 508.377872) rotate(-90)">
      <text>
       <tspan x="0" y="-0.34375" style="font-style: oblique; font-size: 18px; font-family: 'DejaVu Sans', sans-serif">T</tspan>
       <tspan x="10.995117" y="-0.34375" style="font-size: 18px; font-family: 'DejaVu Sans', sans-serif"> </tspan>
       <tspan x="16.716797" y="-0.34375" style="font-size: 18px; font-family: 'DejaVu Sans', sans-serif">(</tspan>
       <tspan x="23.739258" y="-0.34375" style="font-size: 18px; font-family: 'DejaVu Sans', sans-serif">K</tspan>
       <tspan x="35.542969" y="-0.34375" style="font-size: 18px; font-family: 'DejaVu Sans', sans-serif">)</tspan>
      </text>
     </g>
    </g>
   </g>
   <g id="patch_4">
    <path d="M 307.074468 619.202128 L 307.074468 354.893617" style="fill: none; stroke: #000000; stroke-width: 0.957447; stroke-linejoin: miter; stroke-linecap: square"/>
   </g>
   <g id="patch_5">
    <path d="M 591.010638 619.202128 L 591.010638 354.893617" style="fill: none; stroke: #000000; stroke-width: 0.957447; stroke-linejoin: miter; stroke-linecap: square"/>
   </g>
   <g id="patch_6">
    <path d="M 307.074468 619.202128 L 591.010638 619.202128" style="fill: none; stroke: #000000; stroke-width: 0.957447; stroke-linejoin: miter; stroke-linecap: square"/>
   </g>
   <g id="patch_7">
    <path d="M 307.074468 354.893617 L 591.010638 354.893617" style="fill: none; stroke: #000000; stroke-width: 0.957447; stroke-linejoin: miter; stroke-linecap: square"/>
   </g>
   <g id="text_17">
    <text style="font-size: 18px; font-family: 'DejaVu Sans', sans-serif; text-anchor: start" x="537.223404" y="487.308511" transform="rotate(-0 537.223404 487.308511)">(c)</text>
   </g>
   <g id="legend_1">
    <g id="patch_8">
     <path d="M 484.820638 461.828617 L 579.810638 461.828617 Q 583.010638 461.828617 583.010638 458.628617 L 583.010638 366.093617 Q 583.010638 362.893617 579.810638 362.893617 L 484.820638 362.893617 Q 481.620638 362.893617 481.620638 366.093617 L 481.620638 458.628617 Q 481.620638 461.828617 484.820638 461.828617 z" style="fill: #ffffff; opacity: 0.8; stroke: #cccccc; stroke-linejoin: miter"/>
    </g>
    <g id="PathCollection_5">
     <path d="M 504.020638 384.112819 C 505.840383 384.112819 507.585841 383.389827 508.872594 382.103073 C 510.159348 380.816319 510.88234 379.070862 510.88234 377.251117 C 510.88234 375.431372 510.159348 373.685915 508.872594 372.399161 C 507.585841 371.112407 505.840383 370.389415 504.020638 370.389415 C 502.200894 370.389415 500.455436 371.112407 499.168682 372.399161 C 497.881928 373.685915 497.158936 375.431372 497.158936 377.251117 C 497.158936 379.070862 497.881928 380.816319 499.168682 382.103073 C 500.455436 383.389827 502.200894 384.112819 504.020638 384.112819 z" style="fill: #fde725"/>
    </g>
    <g id="text_18">
     <text style="font-size: 16px; font-family: 'DejaVu Sans', sans-serif; text-anchor: start" x="532.820638" y="381.451117" transform="rotate(-0 532.820638 381.451117)">liquid</text>
    </g>
    <g id="PathCollection_6">
     <path d="M 510.829149 400.736117 L 497.212128 393.927606 L 497.212128 407.544628 z" style="fill: #471063"/>
    </g>
    <g id="text_19">
     <!-- $\alpha$-R -->
     <g transform="translate(532.820638 404.936117)">
      <text>
       <tspan x="0" y="-0.328125" style="font-style: oblique; font-size: 16px; font-family: 'DejaVu Sans', sans-serif">α</tspan>
       <tspan x="10.546875" y="-0.328125" style="font-size: 16px; font-family: 'DejaVu Sans', sans-serif">-</tspan>
       <tspan x="16.320312" y="-0.328125" style="font-size: 16px; font-family: 'DejaVu Sans', sans-serif">R</tspan>
      </text>
     </g>
    </g>
    <g id="PathCollection_7">
     <path d="M 497.212128 424.221117 L 510.829149 431.029628 L 510.829149 417.412606 z" style="fill: #287d8e"/>
    </g>
    <g id="text_20">
     <!-- $\alpha$-T -->
     <g transform="translate(532.820638 428.421117)">
      <text>
       <tspan x="0" y="-0.328125" style="font-style: oblique; font-size: 16px; font-family: 'DejaVu Sans', sans-serif">α</tspan>
       <tspan x="10.546875" y="-0.328125" style="font-size: 16px; font-family: 'DejaVu Sans', sans-serif">-</tspan>
       <tspan x="16.320312" y="-0.328125" style="font-size: 16px; font-family: 'DejaVu Sans', sans-serif">T</tspan>
      </text>
     </g>
    </g>
    <g id="PathCollection_8">
     <path d="M 497.371702 454.517553 L 510.669574 454.517553 L 510.669574 441.219681 L 497.371702 441.219681 z" style="fill: #482475"/>
    </g>
    <g id="text_21">
     <!-- $\beta$-R -->
     <g transform="translate(532.820638 452.068617)">
      <text>
       <tspan x="0" y="-0.734375" style="font-style: oblique; font-size: 16px; font-family: 'DejaVu Sans', sans-serif">β</tspan>
       <tspan x="10.210938" y="-0.734375" style="font-size: 16px; font-family: 'DejaVu Sans', sans-serif">-</tspan>
       <tspan x="15.984375" y="-0.734375" style="font-size: 16px; font-family: 'DejaVu Sans', sans-serif">R</tspan>
      </text>
     </g>
    </g>
   </g>
  </g>
  <g id="axes_2">
   <g id="patch_9">
    <path d="M 608.882979 619.202128 L 622.12766 619.202128 L 622.12766 354.893617 L 608.882979 354.893617 L 608.882979 619.202128 z" style="fill: none"/>
   </g>
   <g id="QuadMesh_1">
    <path d="M 608.882979 619.202128 L 622.12766 619.202128 L 622.12766 618.169673 L 608.882979 618.169673 L 608.882979 619.202128" clip-path="url(#pc4cab2e652)" style="fill: #440154; stroke: #440154"/>
    <path d="M 608.882979 618.169673 L 622.12766 618.169673 L 622.12766 617.137217 L 608.882979 617.137217 L 608.882979 618.169673" clip-path="url(#pc4cab2e652)" style="fill: #440256; stroke: #440256"/>
    <path d="M 608.882979 617.137217 L 622.12766 617.137217 L 622.12766 616.104762 L 608.882979 616.104762 L 608.882979 617.137217" clip-path="url(#pc4cab2e652)" style="fill: #450457; stroke: #450457"/>
    <path d="M 608.882979 616.104762 L 622.12766 616.104762 L 622.12766 615.072307 L 608.882979 615.072307 L 608.882979 616.104762" clip-path="url(#pc4cab2e652)" style="fill: #450559; stroke: #450559"/>
    <path d="M 608.882979 615.072307 L 622.12766 615.072307 L 622.12766 614.039852 L 608.882979 614.039852 L 608.882979 615.072307" clip-path="url(#pc4cab2e652)" style="fill: #46075a; stroke: #46075a"/>
    <path d="M 608.882979 614.039852 L 622.12766 614.039852 L 622.12766 613.007397 L 608.882979 613.007397 L 608.882979 614.039852" clip-path="url(#pc4cab2e652)" style="fill: #46085c; stroke: #46085c"/>
    <path d="M 608.882979 613.007397 L 622.12766 613.007397 L 622.12766 611.974942 L 608.882979 611.974942 L 608.882979 613.007397" clip-path="url(#pc4cab2e652)" style="fill: #460a5d; stroke: #460a5d"/>
    <path d="M 608.882979 611.974942 L 622.12766 611.974942 L 622.12766 610.942487 L 608.882979 610.942487 L 608.882979 611.974942" clip-path="url(#pc4cab2e652)" style="fill: #460b5e; stroke: #460b5e"/>
    <path d="M 608.882979 610.942487 L 622.12766 610.942487 L 622.12766 609.910032 L 608.882979 609.910032 L 608.882979 610.942487" clip-path="url(#pc4cab2e652)" style="fill: #470d60; stroke: #470d60"/>
    <path d="M 608.882979 609.910032 L 622.12766 609.910032 L 622.12766 608.877576 L 608.882979 608.877576 L 608.882979 609.910032" clip-path="url(#pc4cab2e652)" style="fill: #470e61; stroke: #470e61"/>
    <path d="M 608.882979 608.877576 L 622.12766 608.877576 L 622.12766 607.845121 L 608.882979 607.845121 L 608.882979 608.877576" clip-path="url(#pc4cab2e652)" style="fill: #471063; stroke: #471063"/>
    <path d="M 608.882979 607.845121 L 622.12766 607.845121 L 622.12766 606.812666 L 608.882979 606.812666 L 608.882979 607.845121" clip-path="url(#pc4cab2e652)" style="fill: #471164; stroke: #471164"/>
    <path d="M 608.882979 606.812666 L 622.12766 606.812666 L 622.12766 605.780211 L 608.882979 605.780211 L 608.882979 606.812666" clip-path="url(#pc4cab2e652)" style="fill: #471365; stroke: #471365"/>
    <path d="M 608.882979 605.780211 L 622.12766 605.780211 L 622.12766 604.747756 L 608.882979 604.747756 L 608.882979 605.780211" clip-path="url(#pc4cab2e652)" style="fill: #481467; stroke: #481467"/>
    <path d="M 608.882979 604.747756 L 622.12766 604.747756 L 622.12766 603.715301 L 608.882979 603.715301 L 608.882979 604.747756" clip-path="url(#pc4cab2e652)" style="fill: #481668; stroke: #481668"/>
    <path d="M 608.882979 603.715301 L 622.12766 603.715301 L 622.12766 602.682846 L 608.882979 602.682846 L 608.882979 603.715301" clip-path="url(#pc4cab2e652)" style="fill: #481769; stroke: #481769"/>
    <path d="M 608.882979 602.682846 L 622.12766 602.682846 L 622.12766 601.650391 L 608.882979 601.650391 L 608.882979 602.682846" clip-path="url(#pc4cab2e652)" style="fill: #48186a; stroke: #48186a"/>
    <path d="M 608.882979 601.650391 L 622.12766 601.650391 L 622.12766 600.617936 L 608.882979 600.617936 L 608.882979 601.650391" clip-path="url(#pc4cab2e652)" style="fill: #481a6c; stroke: #481a6c"/>
    <path d="M 608.882979 600.617936 L 622.12766 600.617936 L 622.12766 599.58548 L 608.882979 599.58548 L 608.882979 600.617936" clip-path="url(#pc4cab2e652)" style="fill: #481b6d; stroke: #481b6d"/>
    <path d="M 608.882979 599.58548 L 622.12766 599.58548 L 622.12766 598.553025 L 608.882979 598.553025 L 608.882979 599.58548" clip-path="url(#pc4cab2e652)" style="fill: #481c6e; stroke: #481c6e"/>
    <path d="M 608.882979 598.553025 L 622.12766 598.553025 L 622.12766 597.52057 L 608.882979 597.52057 L 608.882979 598.553025" clip-path="url(#pc4cab2e652)" style="fill: #481d6f; stroke: #481d6f"/>
    <path d="M 608.882979 597.52057 L 622.12766 597.52057 L 622.12766 596.488115 L 608.882979 596.488115 L 608.882979 597.52057" clip-path="url(#pc4cab2e652)" style="fill: #481f70; stroke: #481f70"/>
    <path d="M 608.882979 596.488115 L 622.12766 596.488115 L 622.12766 595.45566 L 608.882979 595.45566 L 608.882979 596.488115" clip-path="url(#pc4cab2e652)" style="fill: #482071; stroke: #482071"/>
    <path d="M 608.882979 595.45566 L 622.12766 595.45566 L 622.12766 594.423205 L 608.882979 594.423205 L 608.882979 595.45566" clip-path="url(#pc4cab2e652)" style="fill: #482173; stroke: #482173"/>
    <path d="M 608.882979 594.423205 L 622.12766 594.423205 L 622.12766 593.39075 L 608.882979 593.39075 L 608.882979 594.423205" clip-path="url(#pc4cab2e652)" style="fill: #482374; stroke: #482374"/>
    <path d="M 608.882979 593.39075 L 622.12766 593.39075 L 622.12766 592.358295 L 608.882979 592.358295 L 608.882979 593.39075" clip-path="url(#pc4cab2e652)" style="fill: #482475; stroke: #482475"/>
    <path d="M 608.882979 592.358295 L 622.12766 592.358295 L 622.12766 591.325839 L 608.882979 591.325839 L 608.882979 592.358295" clip-path="url(#pc4cab2e652)" style="fill: #482576; stroke: #482576"/>
    <path d="M 608.882979 591.325839 L 622.12766 591.325839 L 622.12766 590.293384 L 608.882979 590.293384 L 608.882979 591.325839" clip-path="url(#pc4cab2e652)" style="fill: #482677; stroke: #482677"/>
    <path d="M 608.882979 590.293384 L 622.12766 590.293384 L 622.12766 589.260929 L 608.882979 589.260929 L 608.882979 590.293384" clip-path="url(#pc4cab2e652)" style="fill: #482878; stroke: #482878"/>
    <path d="M 608.882979 589.260929 L 622.12766 589.260929 L 622.12766 588.228474 L 608.882979 588.228474 L 608.882979 589.260929" clip-path="url(#pc4cab2e652)" style="fill: #482979; stroke: #482979"/>
    <path d="M 608.882979 588.228474 L 622.12766 588.228474 L 622.12766 587.196019 L 608.882979 587.196019 L 608.882979 588.228474" clip-path="url(#pc4cab2e652)" style="fill: #472a7a; stroke: #472a7a"/>
    <path d="M 608.882979 587.196019 L 622.12766 587.196019 L 622.12766 586.163564 L 608.882979 586.163564 L 608.882979 587.196019" clip-path="url(#pc4cab2e652)" style="fill: #472c7a; stroke: #472c7a"/>
    <path d="M 608.882979 586.163564 L 622.12766 586.163564 L 622.12766 585.131109 L 608.882979 585.131109 L 608.882979 586.163564" clip-path="url(#pc4cab2e652)" style="fill: #472d7b; stroke: #472d7b"/>
    <path d="M 608.882979 585.131109 L 622.12766 585.131109 L 622.12766 584.098654 L 608.882979 584.098654 L 608.882979 585.131109" clip-path="url(#pc4cab2e652)" style="fill: #472e7c; stroke: #472e7c"/>
    <path d="M 608.882979 584.098654 L 622.12766 584.098654 L 622.12766 583.066198 L 608.882979 583.066198 L 608.882979 584.098654" clip-path="url(#pc4cab2e652)" style="fill: #472f7d; stroke: #472f7d"/>
    <path d="M 608.882979 583.066198 L 622.12766 583.066198 L 622.12766 582.033743 L 608.882979 582.033743 L 608.882979 583.066198" clip-path="url(#pc4cab2e652)" style="fill: #46307e; stroke: #46307e"/>
    <path d="M 608.882979 582.033743 L 622.12766 582.033743 L 622.12766 581.001288 L 608.882979 581.001288 L 608.882979 582.033743" clip-path="url(#pc4cab2e652)" style="fill: #46327e; stroke: #46327e"/>
    <path d="M 608.882979 581.001288 L 622.12766 581.001288 L 622.12766 579.968833 L 608.882979 579.968833 L 608.882979 581.001288" clip-path="url(#pc4cab2e652)" style="fill: #46337f; stroke: #46337f"/>
    <path d="M 608.882979 579.968833 L 622.12766 579.968833 L 622.12766 578.936378 L 608.882979 578.936378 L 608.882979 579.968833" clip-path="url(#pc4cab2e652)" style="fill: #463480; stroke: #463480"/>
    <path d="M 608.882979 578.936378 L 622.12766 578.936378 L 622.12766 577.903923 L 608.882979 577.903923 L 608.882979 578.936378" clip-path="url(#pc4cab2e652)" style="fill: #453581; stroke: #453581"/>
    <path d="M 608.882979 577.903923 L 622.12766 577.903923 L 622.12766 576.871468 L 608.882979 576.871468 L 608.882979 577.903923" clip-path="url(#pc4cab2e652)" style="fill: #453781; stroke: #453781"/>
    <path d="M 608.882979 576.871468 L 622.12766 576.871468 L 622.12766 575.839013 L 608.882979 575.839013 L 608.882979 576.871468" clip-path="url(#pc4cab2e652)" style="fill: #453882; stroke: #453882"/>
    <path d="M 608.882979 575.839013 L 622.12766 575.839013 L 622.12766 574.806558 L 608.882979 574.806558 L 608.882979 575.839013" clip-path="url(#pc4cab2e652)" style="fill: #443983; stroke: #443983"/>
    <path d="M 608.882979 574.806558 L 622.12766 574.806558 L 622.12766 573.774102 L 608.882979 573.774102 L 608.882979 574.806558" clip-path="url(#pc4cab2e652)" style="fill: #443a83; stroke: #443a83"/>
    <path d="M 608.882979 573.774102 L 622.12766 573.774102 L 622.12766 572.741647 L 608.882979 572.741647 L 608.882979 573.774102" clip-path="url(#pc4cab2e652)" style="fill: #443b84; stroke: #443b84"/>
    <path d="M 608.882979 572.741647 L 622.12766 572.741647 L 622.12766 571.709192 L 608.882979 571.709192 L 608.882979 572.741647" clip-path="url(#pc4cab2e652)" style="fill: #433d84; stroke: #433d84"/>
    <path d="M 608.882979 571.709192 L 622.12766 571.709192 L 622.12766 570.676737 L 608.882979 570.676737 L 608.882979 571.709192" clip-path="url(#pc4cab2e652)" style="fill: #433e85; stroke: #433e85"/>
    <path d="M 608.882979 570.676737 L 622.12766 570.676737 L 622.12766 569.644282 L 608.882979 569.644282 L 608.882979 570.676737" clip-path="url(#pc4cab2e652)" style="fill: #423f85; stroke: #423f85"/>
    <path d="M 608.882979 569.644282 L 622.12766 569.644282 L 622.12766 568.611827 L 608.882979 568.611827 L 608.882979 569.644282" clip-path="url(#pc4cab2e652)" style="fill: #424086; stroke: #424086"/>
    <path d="M 608.882979 568.611827 L 622.12766 568.611827 L 622.12766 567.579372 L 608.882979 567.579372 L 608.882979 568.611827" clip-path="url(#pc4cab2e652)" style="fill: #424186; stroke: #424186"/>
    <path d="M 608.882979 567.579372 L 622.12766 567.579372 L 622.12766 566.546917 L 608.882979 566.546917 L 608.882979 567.579372" clip-path="url(#pc4cab2e652)" style="fill: #414287; stroke: #414287"/>
    <path d="M 608.882979 566.546917 L 622.12766 566.546917 L 622.12766 565.514461 L 608.882979 565.514461 L 608.882979 566.546917" clip-path="url(#pc4cab2e652)" style="fill: #414487; stroke: #414487"/>
    <path d="M 608.882979 565.514461 L 622.12766 565.514461 L 622.12766 564.482006 L 608.882979 564.482006 L 608.882979 565.514461" clip-path="url(#pc4cab2e652)" style="fill: #404588; stroke: #404588"/>
    <path d="M 608.882979 564.482006 L 622.12766 564.482006 L 622.12766 563.449551 L 608.882979 563.449551 L 608.882979 564.482006" clip-path="url(#pc4cab2e652)" style="fill: #404688; stroke: #404688"/>
    <path d="M 608.882979 563.449551 L 622.12766 563.449551 L 622.12766 562.417096 L 608.882979 562.417096 L 608.882979 563.449551" clip-path="url(#pc4cab2e652)" style="fill: #3f4788; stroke: #3f4788"/>
    <path d="M 608.882979 562.417096 L 622.12766 562.417096 L 622.12766 561.384641 L 608.882979 561.384641 L 608.882979 562.417096" clip-path="url(#pc4cab2e652)" style="fill: #3f4889; stroke: #3f4889"/>
    <path d="M 608.882979 561.384641 L 622.12766 561.384641 L 622.12766 560.352186 L 608.882979 560.352186 L 608.882979 561.384641" clip-path="url(#pc4cab2e652)" style="fill: #3e4989; stroke: #3e4989"/>
    <path d="M 608.882979 560.352186 L 622.12766 560.352186 L 622.12766 559.319731 L 608.882979 559.319731 L 608.882979 560.352186" clip-path="url(#pc4cab2e652)" style="fill: #3e4a89; stroke: #3e4a89"/>
    <path d="M 608.882979 559.319731 L 622.12766 559.319731 L 622.12766 558.287276 L 608.882979 558.287276 L 608.882979 559.319731" clip-path="url(#pc4cab2e652)" style="fill: #3e4c8a; stroke: #3e4c8a"/>
    <path d="M 608.882979 558.287276 L 622.12766 558.287276 L 622.12766 557.25482 L 608.882979 557.25482 L 608.882979 558.287276" clip-path="url(#pc4cab2e652)" style="fill: #3d4d8a; stroke: #3d4d8a"/>
    <path d="M 608.882979 557.25482 L 622.12766 557.25482 L 622.12766 556.222365 L 608.882979 556.222365 L 608.882979 557.25482" clip-path="url(#pc4cab2e652)" style="fill: #3d4e8a; stroke: #3d4e8a"/>
    <path d="M 608.882979 556.222365 L 622.12766 556.222365 L 622.12766 555.18991 L 608.882979 555.18991 L 608.882979 556.222365" clip-path="url(#pc4cab2e652)" style="fill: #3c4f8a; stroke: #3c4f8a"/>
    <path d="M 608.882979 555.18991 L 622.12766 555.18991 L 622.12766 554.157455 L 608.882979 554.157455 L 608.882979 555.18991" clip-path="url(#pc4cab2e652)" style="fill: #3c508b; stroke: #3c508b"/>
    <path d="M 608.882979 554.157455 L 622.12766 554.157455 L 622.12766 553.125 L 608.882979 553.125 L 608.882979 554.157455" clip-path="url(#pc4cab2e652)" style="fill: #3b518b; stroke: #3b518b"/>
    <path d="M 608.882979 553.125 L 622.12766 553.125 L 622.12766 552.092545 L 608.882979 552.092545 L 608.882979 553.125" clip-path="url(#pc4cab2e652)" style="fill: #3b528b; stroke: #3b528b"/>
    <path d="M 608.882979 552.092545 L 622.12766 552.092545 L 622.12766 551.06009 L 608.882979 551.06009 L 608.882979 552.092545" clip-path="url(#pc4cab2e652)" style="fill: #3a538b; stroke: #3a538b"/>
    <path d="M 608.882979 551.06009 L 622.12766 551.06009 L 622.12766 550.027635 L 608.882979 550.027635 L 608.882979 551.06009" clip-path="url(#pc4cab2e652)" style="fill: #3a548c; stroke: #3a548c"/>
    <path d="M 608.882979 550.027635 L 622.12766 550.027635 L 622.12766 548.99518 L 608.882979 548.99518 L 608.882979 550.027635" clip-path="url(#pc4cab2e652)" style="fill: #39558c; stroke: #39558c"/>
    <path d="M 608.882979 548.99518 L 622.12766 548.99518 L 622.12766 547.962724 L 608.882979 547.962724 L 608.882979 548.99518" clip-path="url(#pc4cab2e652)" style="fill: #39568c; stroke: #39568c"/>
    <path d="M 608.882979 547.962724 L 622.12766 547.962724 L 622.12766 546.930269 L 608.882979 546.930269 L 608.882979 547.962724" clip-path="url(#pc4cab2e652)" style="fill: #38588c; stroke: #38588c"/>
    <path d="M 608.882979 546.930269 L 622.12766 546.930269 L 622.12766 545.897814 L 608.882979 545.897814 L 608.882979 546.930269" clip-path="url(#pc4cab2e652)" style="fill: #38598c; stroke: #38598c"/>
    <path d="M 608.882979 545.897814 L 622.12766 545.897814 L 622.12766 544.865359 L 608.882979 544.865359 L 608.882979 545.897814" clip-path="url(#pc4cab2e652)" style="fill: #375a8c; stroke: #375a8c"/>
    <path d="M 608.882979 544.865359 L 622.12766 544.865359 L 622.12766 543.832904 L 608.882979 543.832904 L 608.882979 544.865359" clip-path="url(#pc4cab2e652)" style="fill: #375b8d; stroke: #375b8d"/>
    <path d="M 608.882979 543.832904 L 622.12766 543.832904 L 622.12766 542.800449 L 608.882979 542.800449 L 608.882979 543.832904" clip-path="url(#pc4cab2e652)" style="fill: #365c8d; stroke: #365c8d"/>
    <path d="M 608.882979 542.800449 L 622.12766 542.800449 L 622.12766 541.767994 L 608.882979 541.767994 L 608.882979 542.800449" clip-path="url(#pc4cab2e652)" style="fill: #365d8d; stroke: #365d8d"/>
    <path d="M 608.882979 541.767994 L 622.12766 541.767994 L 622.12766 540.735539 L 608.882979 540.735539 L 608.882979 541.767994" clip-path="url(#pc4cab2e652)" style="fill: #355e8d; stroke: #355e8d"/>
    <path d="M 608.882979 540.735539 L 622.12766 540.735539 L 622.12766 539.703083 L 608.882979 539.703083 L 608.882979 540.735539" clip-path="url(#pc4cab2e652)" style="fill: #355f8d; stroke: #355f8d"/>
    <path d="M 608.882979 539.703083 L 622.12766 539.703083 L 622.12766 538.670628 L 608.882979 538.670628 L 608.882979 539.703083" clip-path="url(#pc4cab2e652)" style="fill: #34608d; stroke: #34608d"/>
    <path d="M 608.882979 538.670628 L 622.12766 538.670628 L 622.12766 537.638173 L 608.882979 537.638173 L 608.882979 538.670628" clip-path="url(#pc4cab2e652)" style="fill: #34618d; stroke: #34618d"/>
    <path d="M 608.882979 537.638173 L 622.12766 537.638173 L 622.12766 536.605718 L 608.882979 536.605718 L 608.882979 537.638173" clip-path="url(#pc4cab2e652)" style="fill: #33628d; stroke: #33628d"/>
    <path d="M 608.882979 536.605718 L 622.12766 536.605718 L 622.12766 535.573263 L 608.882979 535.573263 L 608.882979 536.605718" clip-path="url(#pc4cab2e652)" style="fill: #33638d; stroke: #33638d"/>
    <path d="M 608.882979 535.573263 L 622.12766 535.573263 L 622.12766 534.540808 L 608.882979 534.540808 L 608.882979 535.573263" clip-path="url(#pc4cab2e652)" style="fill: #32648e; stroke: #32648e"/>
    <path d="M 608.882979 534.540808 L 622.12766 534.540808 L 622.12766 533.508353 L 608.882979 533.508353 L 608.882979 534.540808" clip-path="url(#pc4cab2e652)" style="fill: #32658e; stroke: #32658e"/>
    <path d="M 608.882979 533.508353 L 622.12766 533.508353 L 622.12766 532.475898 L 608.882979 532.475898 L 608.882979 533.508353" clip-path="url(#pc4cab2e652)" style="fill: #31668e; stroke: #31668e"/>
    <path d="M 608.882979 532.475898 L 622.12766 532.475898 L 622.12766 531.443442 L 608.882979 531.443442 L 608.882979 532.475898" clip-path="url(#pc4cab2e652)" style="fill: #31678e; stroke: #31678e"/>
    <path d="M 608.882979 531.443442 L 622.12766 531.443442 L 622.12766 530.410987 L 608.882979 530.410987 L 608.882979 531.443442" clip-path="url(#pc4cab2e652)" style="fill: #31688e; stroke: #31688e"/>
    <path d="M 608.882979 530.410987 L 622.12766 530.410987 L 622.12766 529.378532 L 608.882979 529.378532 L 608.882979 530.410987" clip-path="url(#pc4cab2e652)" style="fill: #30698e; stroke: #30698e"/>
    <path d="M 608.882979 529.378532 L 622.12766 529.378532 L 622.12766 528.346077 L 608.882979 528.346077 L 608.882979 529.378532" clip-path="url(#pc4cab2e652)" style="fill: #306a8e; stroke: #306a8e"/>
    <path d="M 608.882979 528.346077 L 622.12766 528.346077 L 622.12766 527.313622 L 608.882979 527.313622 L 608.882979 528.346077" clip-path="url(#pc4cab2e652)" style="fill: #2f6b8e; stroke: #2f6b8e"/>
    <path d="M 608.882979 527.313622 L 622.12766 527.313622 L 622.12766 526.281167 L 608.882979 526.281167 L 608.882979 527.313622" clip-path="url(#pc4cab2e652)" style="fill: #2f6c8e; stroke: #2f6c8e"/>
    <path d="M 608.882979 526.281167 L 622.12766 526.281167 L 622.12766 525.248712 L 608.882979 525.248712 L 608.882979 526.281167" clip-path="url(#pc4cab2e652)" style="fill: #2e6d8e; stroke: #2e6d8e"/>
    <path d="M 608.882979 525.248712 L 622.12766 525.248712 L 622.12766 524.216257 L 608.882979 524.216257 L 608.882979 525.248712" clip-path="url(#pc4cab2e652)" style="fill: #2e6e8e; stroke: #2e6e8e"/>
    <path d="M 608.882979 524.216257 L 622.12766 524.216257 L 622.12766 523.183802 L 608.882979 523.183802 L 608.882979 524.216257" clip-path="url(#pc4cab2e652)" style="fill: #2e6f8e; stroke: #2e6f8e"/>
    <path d="M 608.882979 523.183802 L 622.12766 523.183802 L 622.12766 522.151346 L 608.882979 522.151346 L 608.882979 523.183802" clip-path="url(#pc4cab2e652)" style="fill: #2d708e; stroke: #2d708e"/>
    <path d="M 608.882979 522.151346 L 622.12766 522.151346 L 622.12766 521.118891 L 608.882979 521.118891 L 608.882979 522.151346" clip-path="url(#pc4cab2e652)" style="fill: #2d718e; stroke: #2d718e"/>
    <path d="M 608.882979 521.118891 L 622.12766 521.118891 L 622.12766 520.086436 L 608.882979 520.086436 L 608.882979 521.118891" clip-path="url(#pc4cab2e652)" style="fill: #2c718e; stroke: #2c718e"/>
    <path d="M 608.882979 520.086436 L 622.12766 520.086436 L 622.12766 519.053981 L 608.882979 519.053981 L 608.882979 520.086436" clip-path="url(#pc4cab2e652)" style="fill: #2c728e; stroke: #2c728e"/>
    <path d="M 608.882979 519.053981 L 622.12766 519.053981 L 622.12766 518.021526 L 608.882979 518.021526 L 608.882979 519.053981" clip-path="url(#pc4cab2e652)" style="fill: #2c738e; stroke: #2c738e"/>
    <path d="M 608.882979 518.021526 L 622.12766 518.021526 L 622.12766 516.989071 L 608.882979 516.989071 L 608.882979 518.021526" clip-path="url(#pc4cab2e652)" style="fill: #2b748e; stroke: #2b748e"/>
    <path d="M 608.882979 516.989071 L 622.12766 516.989071 L 622.12766 515.956616 L 608.882979 515.956616 L 608.882979 516.989071" clip-path="url(#pc4cab2e652)" style="fill: #2b758e; stroke: #2b758e"/>
    <path d="M 608.882979 515.956616 L 622.12766 515.956616 L 622.12766 514.924161 L 608.882979 514.924161 L 608.882979 515.956616" clip-path="url(#pc4cab2e652)" style="fill: #2a768e; stroke: #2a768e"/>
    <path d="M 608.882979 514.924161 L 622.12766 514.924161 L 622.12766 513.891705 L 608.882979 513.891705 L 608.882979 514.924161" clip-path="url(#pc4cab2e652)" style="fill: #2a778e; stroke: #2a778e"/>
    <path d="M 608.882979 513.891705 L 622.12766 513.891705 L 622.12766 512.85925 L 608.882979 512.85925 L 608.882979 513.891705" clip-path="url(#pc4cab2e652)" style="fill: #2a788e; stroke: #2a788e"/>
    <path d="M 608.882979 512.85925 L 622.12766 512.85925 L 622.12766 511.826795 L 608.882979 511.826795 L 608.882979 512.85925" clip-path="url(#pc4cab2e652)" style="fill: #29798e; stroke: #29798e"/>
    <path d="M 608.882979 511.826795 L 622.12766 511.826795 L 622.12766 510.79434 L 608.882979 510.79434 L 608.882979 511.826795" clip-path="url(#pc4cab2e652)" style="fill: #297a8e; stroke: #297a8e"/>
    <path d="M 608.882979 510.79434 L 622.12766 510.79434 L 622.12766 509.761885 L 608.882979 509.761885 L 608.882979 510.79434" clip-path="url(#pc4cab2e652)" style="fill: #297b8e; stroke: #297b8e"/>
    <path d="M 608.882979 509.761885 L 622.12766 509.761885 L 622.12766 508.72943 L 608.882979 508.72943 L 608.882979 509.761885" clip-path="url(#pc4cab2e652)" style="fill: #287c8e; stroke: #287c8e"/>
    <path d="M 608.882979 508.72943 L 622.12766 508.72943 L 622.12766 507.696975 L 608.882979 507.696975 L 608.882979 508.72943" clip-path="url(#pc4cab2e652)" style="fill: #287d8e; stroke: #287d8e"/>
    <path d="M 608.882979 507.696975 L 622.12766 507.696975 L 622.12766 506.66452 L 608.882979 506.66452 L 608.882979 507.696975" clip-path="url(#pc4cab2e652)" style="fill: #277e8e; stroke: #277e8e"/>
    <path d="M 608.882979 506.66452 L 622.12766 506.66452 L 622.12766 505.632064 L 608.882979 505.632064 L 608.882979 506.66452" clip-path="url(#pc4cab2e652)" style="fill: #277f8e; stroke: #277f8e"/>
    <path d="M 608.882979 505.632064 L 622.12766 505.632064 L 622.12766 504.599609 L 608.882979 504.599609 L 608.882979 505.632064" clip-path="url(#pc4cab2e652)" style="fill: #27808e; stroke: #27808e"/>
    <path d="M 608.882979 504.599609 L 622.12766 504.599609 L 622.12766 503.567154 L 608.882979 503.567154 L 608.882979 504.599609" clip-path="url(#pc4cab2e652)" style="fill: #26818e; stroke: #26818e"/>
    <path d="M 608.882979 503.567154 L 622.12766 503.567154 L 622.12766 502.534699 L 608.882979 502.534699 L 608.882979 503.567154" clip-path="url(#pc4cab2e652)" style="fill: #26828e; stroke: #26828e"/>
    <path d="M 608.882979 502.534699 L 622.12766 502.534699 L 622.12766 501.502244 L 608.882979 501.502244 L 608.882979 502.534699" clip-path="url(#pc4cab2e652)" style="fill: #26828e; stroke: #26828e"/>
    <path d="M 608.882979 501.502244 L 622.12766 501.502244 L 622.12766 500.469789 L 608.882979 500.469789 L 608.882979 501.502244" clip-path="url(#pc4cab2e652)" style="fill: #25838e; stroke: #25838e"/>
    <path d="M 608.882979 500.469789 L 622.12766 500.469789 L 622.12766 499.437334 L 608.882979 499.437334 L 608.882979 500.469789" clip-path="url(#pc4cab2e652)" style="fill: #25848e; stroke: #25848e"/>
    <path d="M 608.882979 499.437334 L 622.12766 499.437334 L 622.12766 498.404879 L 608.882979 498.404879 L 608.882979 499.437334" clip-path="url(#pc4cab2e652)" style="fill: #25858e; stroke: #25858e"/>
    <path d="M 608.882979 498.404879 L 622.12766 498.404879 L 622.12766 497.372424 L 608.882979 497.372424 L 608.882979 498.404879" clip-path="url(#pc4cab2e652)" style="fill: #24868e; stroke: #24868e"/>
    <path d="M 608.882979 497.372424 L 622.12766 497.372424 L 622.12766 496.339968 L 608.882979 496.339968 L 608.882979 497.372424" clip-path="url(#pc4cab2e652)" style="fill: #24878e; stroke: #24878e"/>
    <path d="M 608.882979 496.339968 L 622.12766 496.339968 L 622.12766 495.307513 L 608.882979 495.307513 L 608.882979 496.339968" clip-path="url(#pc4cab2e652)" style="fill: #23888e; stroke: #23888e"/>
    <path d="M 608.882979 495.307513 L 622.12766 495.307513 L 622.12766 494.275058 L 608.882979 494.275058 L 608.882979 495.307513" clip-path="url(#pc4cab2e652)" style="fill: #23898e; stroke: #23898e"/>
    <path d="M 608.882979 494.275058 L 622.12766 494.275058 L 622.12766 493.242603 L 608.882979 493.242603 L 608.882979 494.275058" clip-path="url(#pc4cab2e652)" style="fill: #238a8d; stroke: #238a8d"/>
    <path d="M 608.882979 493.242603 L 622.12766 493.242603 L 622.12766 492.210148 L 608.882979 492.210148 L 608.882979 493.242603" clip-path="url(#pc4cab2e652)" style="fill: #228b8d; stroke: #228b8d"/>
    <path d="M 608.882979 492.210148 L 622.12766 492.210148 L 622.12766 491.177693 L 608.882979 491.177693 L 608.882979 492.210148" clip-path="url(#pc4cab2e652)" style="fill: #228c8d; stroke: #228c8d"/>
    <path d="M 608.882979 491.177693 L 622.12766 491.177693 L 622.12766 490.145238 L 608.882979 490.145238 L 608.882979 491.177693" clip-path="url(#pc4cab2e652)" style="fill: #228d8d; stroke: #228d8d"/>
    <path d="M 608.882979 490.145238 L 622.12766 490.145238 L 622.12766 489.112783 L 608.882979 489.112783 L 608.882979 490.145238" clip-path="url(#pc4cab2e652)" style="fill: #218e8d; stroke: #218e8d"/>
    <path d="M 608.882979 489.112783 L 622.12766 489.112783 L 622.12766 488.080327 L 608.882979 488.080327 L 608.882979 489.112783" clip-path="url(#pc4cab2e652)" style="fill: #218f8d; stroke: #218f8d"/>
    <path d="M 608.882979 488.080327 L 622.12766 488.080327 L 622.12766 487.047872 L 608.882979 487.047872 L 608.882979 488.080327" clip-path="url(#pc4cab2e652)" style="fill: #21908d; stroke: #21908d"/>
    <path d="M 608.882979 487.047872 L 622.12766 487.047872 L 622.12766 486.015417 L 608.882979 486.015417 L 608.882979 487.047872" clip-path="url(#pc4cab2e652)" style="fill: #21918c; stroke: #21918c"/>
    <path d="M 608.882979 486.015417 L 622.12766 486.015417 L 622.12766 484.982962 L 608.882979 484.982962 L 608.882979 486.015417" clip-path="url(#pc4cab2e652)" style="fill: #20928c; stroke: #20928c"/>
    <path d="M 608.882979 484.982962 L 622.12766 484.982962 L 622.12766 483.950507 L 608.882979 483.950507 L 608.882979 484.982962" clip-path="url(#pc4cab2e652)" style="fill: #20928c; stroke: #20928c"/>
    <path d="M 608.882979 483.950507 L 622.12766 483.950507 L 622.12766 482.918052 L 608.882979 482.918052 L 608.882979 483.950507" clip-path="url(#pc4cab2e652)" style="fill: #20938c; stroke: #20938c"/>
    <path d="M 608.882979 482.918052 L 622.12766 482.918052 L 622.12766 481.885597 L 608.882979 481.885597 L 608.882979 482.918052" clip-path="url(#pc4cab2e652)" style="fill: #1f948c; stroke: #1f948c"/>
    <path d="M 608.882979 481.885597 L 622.12766 481.885597 L 622.12766 480.853142 L 608.882979 480.853142 L 608.882979 481.885597" clip-path="url(#pc4cab2e652)" style="fill: #1f958b; stroke: #1f958b"/>
    <path d="M 608.882979 480.853142 L 622.12766 480.853142 L 622.12766 479.820687 L 608.882979 479.820687 L 608.882979 480.853142" clip-path="url(#pc4cab2e652)" style="fill: #1f968b; stroke: #1f968b"/>
    <path d="M 608.882979 479.820687 L 622.12766 479.820687 L 622.12766 478.788231 L 608.882979 478.788231 L 608.882979 479.820687" clip-path="url(#pc4cab2e652)" style="fill: #1f978b; stroke: #1f978b"/>
    <path d="M 608.882979 478.788231 L 622.12766 478.788231 L 622.12766 477.755776 L 608.882979 477.755776 L 608.882979 478.788231" clip-path="url(#pc4cab2e652)" style="fill: #1f988b; stroke: #1f988b"/>
    <path d="M 608.882979 477.755776 L 622.12766 477.755776 L 622.12766 476.723321 L 608.882979 476.723321 L 608.882979 477.755776" clip-path="url(#pc4cab2e652)" style="fill: #1f998a; stroke: #1f998a"/>
    <path d="M 608.882979 476.723321 L 622.12766 476.723321 L 622.12766 475.690866 L 608.882979 475.690866 L 608.882979 476.723321" clip-path="url(#pc4cab2e652)" style="fill: #1f9a8a; stroke: #1f9a8a"/>
    <path d="M 608.882979 475.690866 L 622.12766 475.690866 L 622.12766 474.658411 L 608.882979 474.658411 L 608.882979 475.690866" clip-path="url(#pc4cab2e652)" style="fill: #1e9b8a; stroke: #1e9b8a"/>
    <path d="M 608.882979 474.658411 L 622.12766 474.658411 L 622.12766 473.625956 L 608.882979 473.625956 L 608.882979 474.658411" clip-path="url(#pc4cab2e652)" style="fill: #1e9c89; stroke: #1e9c89"/>
    <path d="M 608.882979 473.625956 L 622.12766 473.625956 L 622.12766 472.593501 L 608.882979 472.593501 L 608.882979 473.625956" clip-path="url(#pc4cab2e652)" style="fill: #1e9d89; stroke: #1e9d89"/>
    <path d="M 608.882979 472.593501 L 622.12766 472.593501 L 622.12766 471.561046 L 608.882979 471.561046 L 608.882979 472.593501" clip-path="url(#pc4cab2e652)" style="fill: #1f9e89; stroke: #1f9e89"/>
    <path d="M 608.882979 471.561046 L 622.12766 471.561046 L 622.12766 470.52859 L 608.882979 470.52859 L 608.882979 471.561046" clip-path="url(#pc4cab2e652)" style="fill: #1f9f88; stroke: #1f9f88"/>
    <path d="M 608.882979 470.52859 L 622.12766 470.52859 L 622.12766 469.496135 L 608.882979 469.496135 L 608.882979 470.52859" clip-path="url(#pc4cab2e652)" style="fill: #1fa088; stroke: #1fa088"/>
    <path d="M 608.882979 469.496135 L 622.12766 469.496135 L 622.12766 468.46368 L 608.882979 468.46368 L 608.882979 469.496135" clip-path="url(#pc4cab2e652)" style="fill: #1fa188; stroke: #1fa188"/>
    <path d="M 608.882979 468.46368 L 622.12766 468.46368 L 622.12766 467.431225 L 608.882979 467.431225 L 608.882979 468.46368" clip-path="url(#pc4cab2e652)" style="fill: #1fa187; stroke: #1fa187"/>
    <path d="M 608.882979 467.431225 L 622.12766 467.431225 L 622.12766 466.39877 L 608.882979 466.39877 L 608.882979 467.431225" clip-path="url(#pc4cab2e652)" style="fill: #1fa287; stroke: #1fa287"/>
    <path d="M 608.882979 466.39877 L 622.12766 466.39877 L 622.12766 465.366315 L 608.882979 465.366315 L 608.882979 466.39877" clip-path="url(#pc4cab2e652)" style="fill: #20a386; stroke: #20a386"/>
    <path d="M 608.882979 465.366315 L 622.12766 465.366315 L 622.12766 464.33386 L 608.882979 464.33386 L 608.882979 465.366315" clip-path="url(#pc4cab2e652)" style="fill: #20a486; stroke: #20a486"/>
    <path d="M 608.882979 464.33386 L 622.12766 464.33386 L 622.12766 463.301405 L 608.882979 463.301405 L 608.882979 464.33386" clip-path="url(#pc4cab2e652)" style="fill: #21a585; stroke: #21a585"/>
    <path d="M 608.882979 463.301405 L 622.12766 463.301405 L 622.12766 462.268949 L 608.882979 462.268949 L 608.882979 463.301405" clip-path="url(#pc4cab2e652)" style="fill: #21a685; stroke: #21a685"/>
    <path d="M 608.882979 462.268949 L 622.12766 462.268949 L 622.12766 461.236494 L 608.882979 461.236494 L 608.882979 462.268949" clip-path="url(#pc4cab2e652)" style="fill: #22a785; stroke: #22a785"/>
    <path d="M 608.882979 461.236494 L 622.12766 461.236494 L 622.12766 460.204039 L 608.882979 460.204039 L 608.882979 461.236494" clip-path="url(#pc4cab2e652)" style="fill: #22a884; stroke: #22a884"/>
    <path d="M 608.882979 460.204039 L 622.12766 460.204039 L 622.12766 459.171584 L 608.882979 459.171584 L 608.882979 460.204039" clip-path="url(#pc4cab2e652)" style="fill: #23a983; stroke: #23a983"/>
    <path d="M 608.882979 459.171584 L 622.12766 459.171584 L 622.12766 458.139129 L 608.882979 458.139129 L 608.882979 459.171584" clip-path="url(#pc4cab2e652)" style="fill: #24aa83; stroke: #24aa83"/>
    <path d="M 608.882979 458.139129 L 622.12766 458.139129 L 622.12766 457.106674 L 608.882979 457.106674 L 608.882979 458.139129" clip-path="url(#pc4cab2e652)" style="fill: #25ab82; stroke: #25ab82"/>
    <path d="M 608.882979 457.106674 L 622.12766 457.106674 L 622.12766 456.074219 L 608.882979 456.074219 L 608.882979 457.106674" clip-path="url(#pc4cab2e652)" style="fill: #25ac82; stroke: #25ac82"/>
    <path d="M 608.882979 456.074219 L 622.12766 456.074219 L 622.12766 455.041764 L 608.882979 455.041764 L 608.882979 456.074219" clip-path="url(#pc4cab2e652)" style="fill: #26ad81; stroke: #26ad81"/>
    <path d="M 608.882979 455.041764 L 622.12766 455.041764 L 622.12766 454.009309 L 608.882979 454.009309 L 608.882979 455.041764" clip-path="url(#pc4cab2e652)" style="fill: #27ad81; stroke: #27ad81"/>
    <path d="M 608.882979 454.009309 L 622.12766 454.009309 L 622.12766 452.976853 L 608.882979 452.976853 L 608.882979 454.009309" clip-path="url(#pc4cab2e652)" style="fill: #28ae80; stroke: #28ae80"/>
    <path d="M 608.882979 452.976853 L 622.12766 452.976853 L 622.12766 451.944398 L 608.882979 451.944398 L 608.882979 452.976853" clip-path="url(#pc4cab2e652)" style="fill: #29af7f; stroke: #29af7f"/>
    <path d="M 608.882979 451.944398 L 622.12766 451.944398 L 622.12766 450.911943 L 608.882979 450.911943 L 608.882979 451.944398" clip-path="url(#pc4cab2e652)" style="fill: #2ab07f; stroke: #2ab07f"/>
    <path d="M 608.882979 450.911943 L 622.12766 450.911943 L 622.12766 449.879488 L 608.882979 449.879488 L 608.882979 450.911943" clip-path="url(#pc4cab2e652)" style="fill: #2cb17e; stroke: #2cb17e"/>
    <path d="M 608.882979 449.879488 L 622.12766 449.879488 L 622.12766 448.847033 L 608.882979 448.847033 L 608.882979 449.879488" clip-path="url(#pc4cab2e652)" style="fill: #2db27d; stroke: #2db27d"/>
    <path d="M 608.882979 448.847033 L 622.12766 448.847033 L 622.12766 447.814578 L 608.882979 447.814578 L 608.882979 448.847033" clip-path="url(#pc4cab2e652)" style="fill: #2eb37c; stroke: #2eb37c"/>
    <path d="M 608.882979 447.814578 L 622.12766 447.814578 L 622.12766 446.782123 L 608.882979 446.782123 L 608.882979 447.814578" clip-path="url(#pc4cab2e652)" style="fill: #2fb47c; stroke: #2fb47c"/>
    <path d="M 608.882979 446.782123 L 622.12766 446.782123 L 622.12766 445.749668 L 608.882979 445.749668 L 608.882979 446.782123" clip-path="url(#pc4cab2e652)" style="fill: #31b57b; stroke: #31b57b"/>
    <path d="M 608.882979 445.749668 L 622.12766 445.749668 L 622.12766 444.717212 L 608.882979 444.717212 L 608.882979 445.749668" clip-path="url(#pc4cab2e652)" style="fill: #32b67a; stroke: #32b67a"/>
    <path d="M 608.882979 444.717212 L 622.12766 444.717212 L 622.12766 443.684757 L 608.882979 443.684757 L 608.882979 444.717212" clip-path="url(#pc4cab2e652)" style="fill: #34b679; stroke: #34b679"/>
    <path d="M 608.882979 443.684757 L 622.12766 443.684757 L 622.12766 442.652302 L 608.882979 442.652302 L 608.882979 443.684757" clip-path="url(#pc4cab2e652)" style="fill: #35b779; stroke: #35b779"/>
    <path d="M 608.882979 442.652302 L 622.12766 442.652302 L 622.12766 441.619847 L 608.882979 441.619847 L 608.882979 442.652302" clip-path="url(#pc4cab2e652)" style="fill: #37b878; stroke: #37b878"/>
    <path d="M 608.882979 441.619847 L 622.12766 441.619847 L 622.12766 440.587392 L 608.882979 440.587392 L 608.882979 441.619847" clip-path="url(#pc4cab2e652)" style="fill: #38b977; stroke: #38b977"/>
    <path d="M 608.882979 440.587392 L 622.12766 440.587392 L 622.12766 439.554937 L 608.882979 439.554937 L 608.882979 440.587392" clip-path="url(#pc4cab2e652)" style="fill: #3aba76; stroke: #3aba76"/>
    <path d="M 608.882979 439.554937 L 622.12766 439.554937 L 622.12766 438.522482 L 608.882979 438.522482 L 608.882979 439.554937" clip-path="url(#pc4cab2e652)" style="fill: #3bbb75; stroke: #3bbb75"/>
    <path d="M 608.882979 438.522482 L 622.12766 438.522482 L 622.12766 437.490027 L 608.882979 437.490027 L 608.882979 438.522482" clip-path="url(#pc4cab2e652)" style="fill: #3dbc74; stroke: #3dbc74"/>
    <path d="M 608.882979 437.490027 L 622.12766 437.490027 L 622.12766 436.457571 L 608.882979 436.457571 L 608.882979 437.490027" clip-path="url(#pc4cab2e652)" style="fill: #3fbc73; stroke: #3fbc73"/>
    <path d="M 608.882979 436.457571 L 622.12766 436.457571 L 622.12766 435.425116 L 608.882979 435.425116 L 608.882979 436.457571" clip-path="url(#pc4cab2e652)" style="fill: #40bd72; stroke: #40bd72"/>
    <path d="M 608.882979 435.425116 L 622.12766 435.425116 L 622.12766 434.392661 L 608.882979 434.392661 L 608.882979 435.425116" clip-path="url(#pc4cab2e652)" style="fill: #42be71; stroke: #42be71"/>
    <path d="M 608.882979 434.392661 L 622.12766 434.392661 L 622.12766 433.360206 L 608.882979 433.360206 L 608.882979 434.392661" clip-path="url(#pc4cab2e652)" style="fill: #44bf70; stroke: #44bf70"/>
    <path d="M 608.882979 433.360206 L 622.12766 433.360206 L 622.12766 432.327751 L 608.882979 432.327751 L 608.882979 433.360206" clip-path="url(#pc4cab2e652)" style="fill: #46c06f; stroke: #46c06f"/>
    <path d="M 608.882979 432.327751 L 622.12766 432.327751 L 622.12766 431.295296 L 608.882979 431.295296 L 608.882979 432.327751" clip-path="url(#pc4cab2e652)" style="fill: #48c16e; stroke: #48c16e"/>
    <path d="M 608.882979 431.295296 L 622.12766 431.295296 L 622.12766 430.262841 L 608.882979 430.262841 L 608.882979 431.295296" clip-path="url(#pc4cab2e652)" style="fill: #4ac16d; stroke: #4ac16d"/>
    <path d="M 608.882979 430.262841 L 622.12766 430.262841 L 622.12766 429.230386 L 608.882979 429.230386 L 608.882979 430.262841" clip-path="url(#pc4cab2e652)" style="fill: #4cc26c; stroke: #4cc26c"/>
    <path d="M 608.882979 429.230386 L 622.12766 429.230386 L 622.12766 428.197931 L 608.882979 428.197931 L 608.882979 429.230386" clip-path="url(#pc4cab2e652)" style="fill: #4ec36b; stroke: #4ec36b"/>
    <path d="M 608.882979 428.197931 L 622.12766 428.197931 L 622.12766 427.165475 L 608.882979 427.165475 L 608.882979 428.197931" clip-path="url(#pc4cab2e652)" style="fill: #50c46a; stroke: #50c46a"/>
    <path d="M 608.882979 427.165475 L 622.12766 427.165475 L 622.12766 426.13302 L 608.882979 426.13302 L 608.882979 427.165475" clip-path="url(#pc4cab2e652)" style="fill: #52c569; stroke: #52c569"/>
    <path d="M 608.882979 426.13302 L 622.12766 426.13302 L 622.12766 425.100565 L 608.882979 425.100565 L 608.882979 426.13302" clip-path="url(#pc4cab2e652)" style="fill: #54c568; stroke: #54c568"/>
    <path d="M 608.882979 425.100565 L 622.12766 425.100565 L 622.12766 424.06811 L 608.882979 424.06811 L 608.882979 425.100565" clip-path="url(#pc4cab2e652)" style="fill: #56c667; stroke: #56c667"/>
    <path d="M 608.882979 424.06811 L 622.12766 424.06811 L 622.12766 423.035655 L 608.882979 423.035655 L 608.882979 424.06811" clip-path="url(#pc4cab2e652)" style="fill: #58c765; stroke: #58c765"/>
    <path d="M 608.882979 423.035655 L 622.12766 423.035655 L 622.12766 422.0032 L 608.882979 422.0032 L 608.882979 423.035655" clip-path="url(#pc4cab2e652)" style="fill: #5ac864; stroke: #5ac864"/>
    <path d="M 608.882979 422.0032 L 622.12766 422.0032 L 622.12766 420.970745 L 608.882979 420.970745 L 608.882979 422.0032" clip-path="url(#pc4cab2e652)" style="fill: #5cc863; stroke: #5cc863"/>
    <path d="M 608.882979 420.970745 L 622.12766 420.970745 L 622.12766 419.93829 L 608.882979 419.93829 L 608.882979 420.970745" clip-path="url(#pc4cab2e652)" style="fill: #5ec962; stroke: #5ec962"/>
    <path d="M 608.882979 419.93829 L 622.12766 419.93829 L 622.12766 418.905834 L 608.882979 418.905834 L 608.882979 419.93829" clip-path="url(#pc4cab2e652)" style="fill: #60ca60; stroke: #60ca60"/>
    <path d="M 608.882979 418.905834 L 622.12766 418.905834 L 622.12766 417.873379 L 608.882979 417.873379 L 608.882979 418.905834" clip-path="url(#pc4cab2e652)" style="fill: #63cb5f; stroke: #63cb5f"/>
    <path d="M 608.882979 417.873379 L 622.12766 417.873379 L 622.12766 416.840924 L 608.882979 416.840924 L 608.882979 417.873379" clip-path="url(#pc4cab2e652)" style="fill: #65cb5e; stroke: #65cb5e"/>
    <path d="M 608.882979 416.840924 L 622.12766 416.840924 L 622.12766 415.808469 L 608.882979 415.808469 L 608.882979 416.840924" clip-path="url(#pc4cab2e652)" style="fill: #67cc5c; stroke: #67cc5c"/>
    <path d="M 608.882979 415.808469 L 622.12766 415.808469 L 622.12766 414.776014 L 608.882979 414.776014 L 608.882979 415.808469" clip-path="url(#pc4cab2e652)" style="fill: #69cd5b; stroke: #69cd5b"/>
    <path d="M 608.882979 414.776014 L 622.12766 414.776014 L 622.12766 413.743559 L 608.882979 413.743559 L 608.882979 414.776014" clip-path="url(#pc4cab2e652)" style="fill: #6ccd5a; stroke: #6ccd5a"/>
    <path d="M 608.882979 413.743559 L 622.12766 413.743559 L 622.12766 412.711104 L 608.882979 412.711104 L 608.882979 413.743559" clip-path="url(#pc4cab2e652)" style="fill: #6ece58; stroke: #6ece58"/>
    <path d="M 608.882979 412.711104 L 622.12766 412.711104 L 622.12766 411.678649 L 608.882979 411.678649 L 608.882979 412.711104" clip-path="url(#pc4cab2e652)" style="fill: #70cf57; stroke: #70cf57"/>
    <path d="M 608.882979 411.678649 L 622.12766 411.678649 L 622.12766 410.646193 L 608.882979 410.646193 L 608.882979 411.678649" clip-path="url(#pc4cab2e652)" style="fill: #73d056; stroke: #73d056"/>
    <path d="M 608.882979 410.646193 L 622.12766 410.646193 L 622.12766 409.613738 L 608.882979 409.613738 L 608.882979 410.646193" clip-path="url(#pc4cab2e652)" style="fill: #75d054; stroke: #75d054"/>
    <path d="M 608.882979 409.613738 L 622.12766 409.613738 L 622.12766 408.581283 L 608.882979 408.581283 L 608.882979 409.613738" clip-path="url(#pc4cab2e652)" style="fill: #77d153; stroke: #77d153"/>
    <path d="M 608.882979 408.581283 L 622.12766 408.581283 L 622.12766 407.548828 L 608.882979 407.548828 L 608.882979 408.581283" clip-path="url(#pc4cab2e652)" style="fill: #7ad151; stroke: #7ad151"/>
    <path d="M 608.882979 407.548828 L 622.12766 407.548828 L 622.12766 406.516373 L 608.882979 406.516373 L 608.882979 407.548828" clip-path="url(#pc4cab2e652)" style="fill: #7cd250; stroke: #7cd250"/>
    <path d="M 608.882979 406.516373 L 622.12766 406.516373 L 622.12766 405.483918 L 608.882979 405.483918 L 608.882979 406.516373" clip-path="url(#pc4cab2e652)" style="fill: #7fd34e; stroke: #7fd34e"/>
    <path d="M 608.882979 405.483918 L 622.12766 405.483918 L 622.12766 404.451463 L 608.882979 404.451463 L 608.882979 405.483918" clip-path="url(#pc4cab2e652)" style="fill: #81d34d; stroke: #81d34d"/>
    <path d="M 608.882979 404.451463 L 622.12766 404.451463 L 622.12766 403.419008 L 608.882979 403.419008 L 608.882979 404.451463" clip-path="url(#pc4cab2e652)" style="fill: #84d44b; stroke: #84d44b"/>
    <path d="M 608.882979 403.419008 L 622.12766 403.419008 L 622.12766 402.386553 L 608.882979 402.386553 L 608.882979 403.419008" clip-path="url(#pc4cab2e652)" style="fill: #86d549; stroke: #86d549"/>
    <path d="M 608.882979 402.386553 L 622.12766 402.386553 L 622.12766 401.354097 L 608.882979 401.354097 L 608.882979 402.386553" clip-path="url(#pc4cab2e652)" style="fill: #89d548; stroke: #89d548"/>
    <path d="M 608.882979 401.354097 L 622.12766 401.354097 L 622.12766 400.321642 L 608.882979 400.321642 L 608.882979 401.354097" clip-path="url(#pc4cab2e652)" style="fill: #8bd646; stroke: #8bd646"/>
    <path d="M 608.882979 400.321642 L 622.12766 400.321642 L 622.12766 399.289187 L 608.882979 399.289187 L 608.882979 400.321642" clip-path="url(#pc4cab2e652)" style="fill: #8ed645; stroke: #8ed645"/>
    <path d="M 608.882979 399.289187 L 622.12766 399.289187 L 622.12766 398.256732 L 608.882979 398.256732 L 608.882979 399.289187" clip-path="url(#pc4cab2e652)" style="fill: #90d743; stroke: #90d743"/>
    <path d="M 608.882979 398.256732 L 622.12766 398.256732 L 622.12766 397.224277 L 608.882979 397.224277 L 608.882979 398.256732" clip-path="url(#pc4cab2e652)" style="fill: #93d741; stroke: #93d741"/>
    <path d="M 608.882979 397.224277 L 622.12766 397.224277 L 622.12766 396.191822 L 608.882979 396.191822 L 608.882979 397.224277" clip-path="url(#pc4cab2e652)" style="fill: #95d840; stroke: #95d840"/>
    <path d="M 608.882979 396.191822 L 622.12766 396.191822 L 622.12766 395.159367 L 608.882979 395.159367 L 608.882979 396.191822" clip-path="url(#pc4cab2e652)" style="fill: #98d83e; stroke: #98d83e"/>
    <path d="M 608.882979 395.159367 L 622.12766 395.159367 L 622.12766 394.126912 L 608.882979 394.126912 L 608.882979 395.159367" clip-path="url(#pc4cab2e652)" style="fill: #9bd93c; stroke: #9bd93c"/>
    <path d="M 608.882979 394.126912 L 622.12766 394.126912 L 622.12766 393.094456 L 608.882979 393.094456 L 608.882979 394.126912" clip-path="url(#pc4cab2e652)" style="fill: #9dd93b; stroke: #9dd93b"/>
    <path d="M 608.882979 393.094456 L 622.12766 393.094456 L 622.12766 392.062001 L 608.882979 392.062001 L 608.882979 393.094456" clip-path="url(#pc4cab2e652)" style="fill: #a0da39; stroke: #a0da39"/>
    <path d="M 608.882979 392.062001 L 622.12766 392.062001 L 622.12766 391.029546 L 608.882979 391.029546 L 608.882979 392.062001" clip-path="url(#pc4cab2e652)" style="fill: #a2da37; stroke: #a2da37"/>
    <path d="M 608.882979 391.029546 L 622.12766 391.029546 L 622.12766 389.997091 L 608.882979 389.997091 L 608.882979 391.029546" clip-path="url(#pc4cab2e652)" style="fill: #a5db36; stroke: #a5db36"/>
    <path d="M 608.882979 389.997091 L 622.12766 389.997091 L 622.12766 388.964636 L 608.882979 388.964636 L 608.882979 389.997091" clip-path="url(#pc4cab2e652)" style="fill: #a8db34; stroke: #a8db34"/>
    <path d="M 608.882979 388.964636 L 622.12766 388.964636 L 622.12766 387.932181 L 608.882979 387.932181 L 608.882979 388.964636" clip-path="url(#pc4cab2e652)" style="fill: #aadc32; stroke: #aadc32"/>
    <path d="M 608.882979 387.932181 L 622.12766 387.932181 L 622.12766 386.899726 L 608.882979 386.899726 L 608.882979 387.932181" clip-path="url(#pc4cab2e652)" style="fill: #addc30; stroke: #addc30"/>
    <path d="M 608.882979 386.899726 L 622.12766 386.899726 L 622.12766 385.867271 L 608.882979 385.867271 L 608.882979 386.899726" clip-path="url(#pc4cab2e652)" style="fill: #b0dd2f; stroke: #b0dd2f"/>
    <path d="M 608.882979 385.867271 L 622.12766 385.867271 L 622.12766 384.834815 L 608.882979 384.834815 L 608.882979 385.867271" clip-path="url(#pc4cab2e652)" style="fill: #b2dd2d; stroke: #b2dd2d"/>
    <path d="M 608.882979 384.834815 L 622.12766 384.834815 L 622.12766 383.80236 L 608.882979 383.80236 L 608.882979 384.834815" clip-path="url(#pc4cab2e652)" style="fill: #b5de2b; stroke: #b5de2b"/>
    <path d="M 608.882979 383.80236 L 622.12766 383.80236 L 622.12766 382.769905 L 608.882979 382.769905 L 608.882979 383.80236" clip-path="url(#pc4cab2e652)" style="fill: #b8de29; stroke: #b8de29"/>
    <path d="M 608.882979 382.769905 L 622.12766 382.769905 L 622.12766 381.73745 L 608.882979 381.73745 L 608.882979 382.769905" clip-path="url(#pc4cab2e652)" style="fill: #bade28; stroke: #bade28"/>
    <path d="M 608.882979 381.73745 L 622.12766 381.73745 L 622.12766 380.704995 L 608.882979 380.704995 L 608.882979 381.73745" clip-path="url(#pc4cab2e652)" style="fill: #bddf26; stroke: #bddf26"/>
    <path d="M 608.882979 380.704995 L 622.12766 380.704995 L 622.12766 379.67254 L 608.882979 379.67254 L 608.882979 380.704995" clip-path="url(#pc4cab2e652)" style="fill: #c0df25; stroke: #c0df25"/>
    <path d="M 608.882979 379.67254 L 622.12766 379.67254 L 622.12766 378.640085 L 608.882979 378.640085 L 608.882979 379.67254" clip-path="url(#pc4cab2e652)" style="fill: #c2df23; stroke: #c2df23"/>
    <path d="M 608.882979 378.640085 L 622.12766 378.640085 L 622.12766 377.60763 L 608.882979 377.60763 L 608.882979 378.640085" clip-path="url(#pc4cab2e652)" style="fill: #c5e021; stroke: #c5e021"/>
    <path d="M 608.882979 377.60763 L 622.12766 377.60763 L 622.12766 376.575175 L 608.882979 376.575175 L 608.882979 377.60763" clip-path="url(#pc4cab2e652)" style="fill: #c8e020; stroke: #c8e020"/>
    <path d="M 608.882979 376.575175 L 622.12766 376.575175 L 622.12766 375.542719 L 608.882979 375.542719 L 608.882979 376.575175" clip-path="url(#pc4cab2e652)" style="fill: #cae11f; stroke: #cae11f"/>
    <path d="M 608.882979 375.542719 L 622.12766 375.542719 L 622.12766 374.510264 L 608.882979 374.510264 L 608.882979 375.542719" clip-path="url(#pc4cab2e652)" style="fill: #cde11d; stroke: #cde11d"/>
    <path d="M 608.882979 374.510264 L 622.12766 374.510264 L 622.12766 373.477809 L 608.882979 373.477809 L 608.882979 374.510264" clip-path="url(#pc4cab2e652)" style="fill: #d0e11c; stroke: #d0e11c"/>
    <path d="M 608.882979 373.477809 L 622.12766 373.477809 L 622.12766 372.445354 L 608.882979 372.445354 L 608.882979 373.477809" clip-path="url(#pc4cab2e652)" style="fill: #d2e21b; stroke: #d2e21b"/>
    <path d="M 608.882979 372.445354 L 622.12766 372.445354 L 622.12766 371.412899 L 608.882979 371.412899 L 608.882979 372.445354" clip-path="url(#pc4cab2e652)" style="fill: #d5e21a; stroke: #d5e21a"/>
    <path d="M 608.882979 371.412899 L 622.12766 371.412899 L 622.12766 370.380444 L 608.882979 370.380444 L 608.882979 371.412899" clip-path="url(#pc4cab2e652)" style="fill: #d8e219; stroke: #d8e219"/>
    <path d="M 608.882979 370.380444 L 622.12766 370.380444 L 622.12766 369.347989 L 608.882979 369.347989 L 608.882979 370.380444" clip-path="url(#pc4cab2e652)" style="fill: #dae319; stroke: #dae319"/>
    <path d="M 608.882979 369.347989 L 622.12766 369.347989 L 622.12766 368.315534 L 608.882979 368.315534 L 608.882979 369.347989" clip-path="url(#pc4cab2e652)" style="fill: #dde318; stroke: #dde318"/>
    <path d="M 608.882979 368.315534 L 622.12766 368.315534 L 622.12766 367.283078 L 608.882979 367.283078 L 608.882979 368.315534" clip-path="url(#pc4cab2e652)" style="fill: #dfe318; stroke: #dfe318"/>
    <path d="M 608.882979 367.283078 L 622.12766 367.283078 L 622.12766 366.250623 L 608.882979 366.250623 L 608.882979 367.283078" clip-path="url(#pc4cab2e652)" style="fill: #e2e418; stroke: #e2e418"/>
    <path d="M 608.882979 366.250623 L 622.12766 366.250623 L 622.12766 365.218168 L 608.882979 365.218168 L 608.882979 366.250623" clip-path="url(#pc4cab2e652)" style="fill: #e5e419; stroke: #e5e419"/>
    <path d="M 608.882979 365.218168 L 622.12766 365.218168 L 622.12766 364.185713 L 608.882979 364.185713 L 608.882979 365.218168" clip-path="url(#pc4cab2e652)" style="fill: #e7e419; stroke: #e7e419"/>
    <path d="M 608.882979 364.185713 L 622.12766 364.185713 L 622.12766 363.153258 L 608.882979 363.153258 L 608.882979 364.185713" clip-path="url(#pc4cab2e652)" style="fill: #eae51a; stroke: #eae51a"/>
    <path d="M 608.882979 363.153258 L 622.12766 363.153258 L 622.12766 362.120803 L 608.882979 362.120803 L 608.882979 363.153258" clip-path="url(#pc4cab2e652)" style="fill: #ece51b; stroke: #ece51b"/>
    <path d="M 608.882979 362.120803 L 622.12766 362.120803 L 622.12766 361.088348 L 608.882979 361.088348 L 608.882979 362.120803" clip-path="url(#pc4cab2e652)" style="fill: #efe51c; stroke: #efe51c"/>
    <path d="M 608.882979 361.088348 L 622.12766 361.088348 L 622.12766 360.055893 L 608.882979 360.055893 L 608.882979 361.088348" clip-path="url(#pc4cab2e652)" style="fill: #f1e51d; stroke: #f1e51d"/>
    <path d="M 608.882979 360.055893 L 622.12766 360.055893 L 622.12766 359.023438 L 608.882979 359.023438 L 608.882979 360.055893" clip-path="url(#pc4cab2e652)" style="fill: #f4e61e; stroke: #f4e61e"/>
    <path d="M 608.882979 359.023438 L 622.12766 359.023438 L 622.12766 357.990982 L 608.882979 357.990982 L 608.882979 359.023438" clip-path="url(#pc4cab2e652)" style="fill: #f6e620; stroke: #f6e620"/>
    <path d="M 608.882979 357.990982 L 622.12766 357.990982 L 622.12766 356.958527 L 608.882979 356.958527 L 608.882979 357.990982" clip-path="url(#pc4cab2e652)" style="fill: #f8e621; stroke: #f8e621"/>
    <path d="M 608.882979 356.958527 L 622.12766 356.958527 L 622.12766 355.926072 L 608.882979 355.926072 L 608.882979 356.958527" clip-path="url(#pc4cab2e652)" style="fill: #fbe723; stroke: #fbe723"/>
    <path d="M 608.882979 355.926072 L 622.12766 355.926072 L 622.12766 354.893617 L 608.882979 354.893617 L 608.882979 355.926072" clip-path="url(#pc4cab2e652)" style="fill: #fde725; stroke: #fde725"/>
   </g>
   <g id="matplotlib.axis_3"/>
   <g id="matplotlib.axis_4">
    <g id="ytick_8">
     <g id="line2d_15">
      <g>
       <path d="M 0 0 L 3.5 0" transform="translate(622.12766 619.202128)" style="stroke: #000000; stroke-width: 0.797872"/>
      </g>
     </g>
     <g id="text_22">
      <!-- $\mathdefault{10^{2}}$ -->
      <g transform="translate(629.12766 625.280878)">
       <text>
        <tspan x="0" y="-0.5625" style="font-size: 16px; font-family: 'DejaVu Sans', sans-serif">1</tspan>
        <tspan x="10.179688" y="-0.5625" style="font-size: 16px; font-family: 'DejaVu Sans', sans-serif">0</tspan>
        <tspan x="20.5125" y="-6.6875" style="font-size: 11.2px; font-family: 'DejaVu Sans', sans-serif">2</tspan>
       </text>
      </g>
     </g>
    </g>
    <g id="ytick_9">
     <g id="line2d_16">
      <g>
       <path d="M 0 0 L 3.5 0" transform="translate(622.12766 433.621941)" style="stroke: #000000; stroke-width: 0.797872"/>
      </g>
     </g>
     <g id="text_23">
      <!-- $\mathdefault{10^{3}}$ -->
      <g transform="translate(629.12766 439.700691)">
       <text>
        <tspan x="0" y="-0.5625" style="font-size: 16px; font-family: 'DejaVu Sans', sans-serif">1</tspan>
        <tspan x="10.179688" y="-0.5625" style="font-size: 16px; font-family: 'DejaVu Sans', sans-serif">0</tspan>
        <tspan x="20.5125" y="-6.6875" style="font-size: 11.2px; font-family: 'DejaVu Sans', sans-serif">3</tspan>
       </text>
      </g>
     </g>
    </g>
    <g id="ytick_10">
     <g id="line2d_17">
      <g>
       <path d="M 0 0 L 2 0" transform="translate(622.12766 563.336925)" style="stroke: #000000; stroke-width: 0.598404"/>
      </g>
     </g>
    </g>
    <g id="ytick_11">
     <g id="line2d_18">
      <g>
       <path d="M 0 0 L 2 0" transform="translate(622.12766 530.657876)" style="stroke: #000000; stroke-width: 0.598404"/>
      </g>
     </g>
    </g>
    <g id="ytick_12">
     <g id="line2d_19">
      <g>
       <path d="M 0 0 L 2 0" transform="translate(622.12766 507.471722)" style="stroke: #000000; stroke-width: 0.598404"/>
      </g>
     </g>
    </g>
    <g id="ytick_13">
     <g id="line2d_20">
      <g>
       <path d="M 0 0 L 2 0" transform="translate(622.12766 489.487144)" style="stroke: #000000; stroke-width: 0.598404"/>
      </g>
     </g>
    </g>
    <g id="ytick_14">
     <g id="line2d_21">
      <g>
       <path d="M 0 0 L 2 0" transform="translate(622.12766 474.792674)" style="stroke: #000000; stroke-width: 0.598404"/>
      </g>
     </g>
    </g>
    <g id="ytick_15">
     <g id="line2d_22">
      <g>
       <path d="M 0 0 L 2 0" transform="translate(622.12766 462.368676)" style="stroke: #000000; stroke-width: 0.598404"/>
      </g>
     </g>
    </g>
    <g id="ytick_16">
     <g id="line2d_23">
      <g>
       <path d="M 0 0 L 2 0" transform="translate(622.12766 451.60652)" style="stroke: #000000; stroke-width: 0.598404"/>
      </g>
     </g>
    </g>
    <g id="ytick_17">
     <g id="line2d_24">
      <g>
       <path d="M 0 0 L 2 0" transform="translate(622.12766 442.113625)" style="stroke: #000000; stroke-width: 0.598404"/>
      </g>
     </g>
    </g>
    <g id="ytick_18">
     <g id="line2d_25">
      <g>
       <path d="M 0 0 L 2 0" transform="translate(622.12766 377.756739)" style="stroke: #000000; stroke-width: 0.598404"/>
      </g>
     </g>
    </g>
    <g id="text_24">
     <text style="font-size: 18px; font-family: 'DejaVu Sans', sans-serif; text-anchor: middle" x="674.964847" y="487.047872" transform="rotate(-90 674.964847 487.047872)">configurations</text>
    </g>
   </g>
   <g id="LineCollection_1"/>
   <g id="patch_10">
    <path d="M 608.882979 619.202128 L 615.505319 619.202128 L 622.12766 619.202128 L 622.12766 354.893617 L 615.505319 354.893617 L 608.882979 354.893617 L 608.882979 619.202128 z" style="fill: none; stroke: #000000; stroke-width: 0.957447; stroke-linejoin: miter; stroke-linecap: square"/>
   </g>
  </g>
 </g>
 <defs>
  <clipPath id="pbe6b0d058a">
   <rect x="307.074468" y="354.893617" width="283.93617" height="264.308511"/>
  </clipPath>
  <clipPath id="pc4cab2e652">
   <rect x="608.882979" y="354.893617" width="13.244681" height="264.308511"/>
  </clipPath>
 </defs>
</svg>
</div></body></html>
